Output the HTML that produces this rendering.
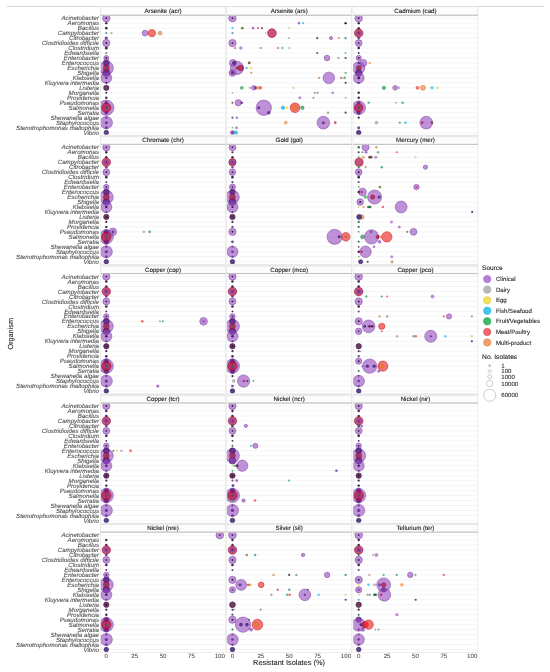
<!DOCTYPE html><html><head><meta charset="utf-8"><style>html,body{margin:0;padding:0;background:#fff;}svg{display:block;will-change:transform;}
text{font-family:"Liberation Sans",sans-serif;text-rendering:geometricPrecision;}
.yl{font-size:6.15px;font-style:italic;fill:#505050;stroke:#505050;stroke-width:0.1px;text-anchor:end;}
.st{font-size:6.2px;fill:#202020;stroke:#202020;stroke-width:0.12px;text-anchor:middle;}
.tk{font-size:6.1px;fill:#555;stroke:#555;stroke-width:0.1px;text-anchor:middle;}
.lg{font-size:6.1px;fill:#2b2b2b;stroke:#2b2b2b;stroke-width:0.1px;}
.lt{font-size:6.5px;fill:#1a1a1a;stroke:#1a1a1a;stroke-width:0.1px;}
.at{font-size:7.4px;fill:#222;stroke:#222;stroke-width:0.08px;text-anchor:middle;}</style></head><body>
<svg width="550" height="672" viewBox="0 0 550 672">
<rect width="550" height="672" fill="#fff"/>
<line x1="7" y1="6.5" x2="544" y2="6.5" stroke="#d6d6d6" stroke-width="1.1"/>
<path d="M100.6 18.19h124.8M100.6 23.16h124.8M100.6 28.14h124.8M100.6 33.11h124.8M100.6 38.09h124.8M100.6 43.06h124.8M100.6 48.04h124.8M100.6 53.01h124.8M100.6 57.99h124.8M100.6 62.96h124.8M100.6 67.94h124.8M100.6 72.91h124.8M100.6 77.89h124.8M100.6 82.86h124.8M100.6 87.84h124.8M100.6 92.81h124.8M100.6 97.79h124.8M100.6 102.76h124.8M100.6 107.74h124.8M100.6 112.71h124.8M100.6 117.69h124.8M100.6 122.66h124.8M100.6 127.64h124.8M100.6 132.61h124.8" stroke="#efefef" stroke-width="0.6"/>
<clipPath id="cp00"><rect x="100.62" y="15.20" width="124.85" height="120.40"/></clipPath>
<g clip-path="url(#cp00)">
<circle cx="106.30" cy="18.19" r="3.75" fill="#9448c0" fill-opacity="0.6" stroke="#793b9d" stroke-opacity="0.70" stroke-width="0.7"/>
<circle cx="106.30" cy="18.19" r="0.9" fill="#2a0f3a" fill-opacity="0.9"/>
<circle cx="106.30" cy="23.16" r="1.2" fill="#2a0f3a" fill-opacity="0.9"/>
<circle cx="106.30" cy="28.14" r="1.3" fill="#2a0f3a" fill-opacity="0.9"/>
<circle cx="106.30" cy="33.11" r="1.1" fill="#3a9a9a" fill-opacity="0.85"/>
<circle cx="111.52" cy="33.11" r="1.2" fill="#8a8a8f" fill-opacity="0.6"/>
<circle cx="145.12" cy="33.11" r="2.95" fill="#9448c0" fill-opacity="0.6" stroke="#793b9d" stroke-opacity="0.70" stroke-width="0.7"/>
<circle cx="151.93" cy="33.11" r="3.65" fill="#f02a2a" fill-opacity="0.66" stroke="#c42222" stroke-opacity="0.76" stroke-width="0.7"/>
<circle cx="160.10" cy="33.11" r="1.85" fill="#f07f2a" fill-opacity="0.62" stroke="#c46822" stroke-opacity="0.72" stroke-width="0.7"/>
<circle cx="106.30" cy="38.09" r="1.6" fill="#5b2a86" fill-opacity="0.85"/>
<circle cx="106.30" cy="43.06" r="3.65" fill="#9448c0" fill-opacity="0.6" stroke="#793b9d" stroke-opacity="0.70" stroke-width="0.7"/>
<circle cx="106.30" cy="43.06" r="1.0" fill="#2a0f3a" fill-opacity="0.9"/>
<circle cx="106.30" cy="48.04" r="1.5" fill="#2a0f3a" fill-opacity="0.9"/>
<circle cx="106.30" cy="53.01" r="0.9" fill="#555555" fill-opacity="0.85"/>
<circle cx="106.30" cy="57.99" r="2.55" fill="#9448c0" fill-opacity="0.6" stroke="#793b9d" stroke-opacity="0.70" stroke-width="0.7"/>
<circle cx="106.30" cy="57.99" r="0.9" fill="#2a0f3a" fill-opacity="0.9"/>
<circle cx="106.30" cy="67.94" r="7.05" fill="#9448c0" fill-opacity="0.6" stroke="#793b9d" stroke-opacity="0.70" stroke-width="0.7"/>
<circle cx="106.30" cy="62.96" r="3.25" fill="#9448c0" fill-opacity="0.6" stroke="#793b9d" stroke-opacity="0.70" stroke-width="0.7"/>
<circle cx="106.30" cy="62.96" r="2.45" fill="#5b2a86" fill-opacity="0.85" stroke="#4a226d" stroke-opacity="0.95" stroke-width="0.7"/>
<circle cx="106.30" cy="72.91" r="3.95" fill="#9448c0" fill-opacity="0.6" stroke="#793b9d" stroke-opacity="0.70" stroke-width="0.7"/>
<circle cx="106.30" cy="72.91" r="2.85" fill="#5b2a86" fill-opacity="0.85" stroke="#4a226d" stroke-opacity="0.95" stroke-width="0.7"/>
<circle cx="106.30" cy="67.94" r="2.85" fill="#b8103e" fill-opacity="0.72" stroke="#960d32" stroke-opacity="0.82" stroke-width="0.7"/>
<circle cx="106.30" cy="67.94" r="1.1" fill="#3a5868" fill-opacity="0.9"/>
<circle cx="106.30" cy="77.89" r="5.45" fill="#9448c0" fill-opacity="0.6" stroke="#793b9d" stroke-opacity="0.70" stroke-width="0.7"/>
<circle cx="106.30" cy="77.89" r="1.0" fill="#2a0f3a" fill-opacity="0.9"/>
<circle cx="106.30" cy="82.86" r="1.0" fill="#2a0f3a" fill-opacity="0.9"/>
<circle cx="106.30" cy="87.84" r="2.65" fill="#5a2250" fill-opacity="0.88" stroke="#491b41" stroke-opacity="0.98" stroke-width="0.7"/>
<circle cx="106.30" cy="92.81" r="1.0" fill="#2a0f3a" fill-opacity="0.9"/>
<circle cx="106.30" cy="97.79" r="1.2" fill="#2a0f3a" fill-opacity="0.9"/>
<circle cx="106.30" cy="107.74" r="7.65" fill="#9448c0" fill-opacity="0.6" stroke="#793b9d" stroke-opacity="0.70" stroke-width="0.7"/>
<circle cx="106.30" cy="102.76" r="1.8" fill="#5b2a86" fill-opacity="0.85"/>
<circle cx="106.30" cy="112.71" r="1.8" fill="#5b2a86" fill-opacity="0.85"/>
<circle cx="106.30" cy="107.74" r="4.65" fill="#b8103e" fill-opacity="0.72" stroke="#960d32" stroke-opacity="0.82" stroke-width="0.7"/>
<circle cx="106.30" cy="107.74" r="1.3" fill="#3a5868" fill-opacity="0.9"/>
<circle cx="106.30" cy="117.69" r="1.3" fill="#5b2a86" fill-opacity="0.85"/>
<circle cx="106.30" cy="122.66" r="6.15" fill="#9448c0" fill-opacity="0.6" stroke="#793b9d" stroke-opacity="0.70" stroke-width="0.7"/>
<circle cx="106.30" cy="122.66" r="1.5" fill="#5b2a86" fill-opacity="0.85"/>
<circle cx="106.30" cy="127.64" r="1.3" fill="#5b2a86" fill-opacity="0.85"/>
<circle cx="106.30" cy="132.61" r="2.25" fill="#4a2e80" fill-opacity="0.9" stroke="#3c2568" stroke-opacity="1.00" stroke-width="0.7"/>
</g>
<rect x="100.62" y="15.20" width="124.85" height="120.40" fill="none" stroke="#e2e2e2" stroke-width="0.6"/>
<rect x="100.62" y="6.50" width="124.85" height="8.70" fill="#fcfcfc" stroke="#dcdcdc" stroke-width="0.6"/>
<line x1="100.62" y1="15.20" x2="225.47" y2="15.20" stroke="#b4b4b4" stroke-width="0.8"/>
<text class="st" x="163.05" y="12.95">Arsenite (acr)</text>
<path d="M226.8 18.19h124.8M226.8 23.16h124.8M226.8 28.14h124.8M226.8 33.11h124.8M226.8 38.09h124.8M226.8 43.06h124.8M226.8 48.04h124.8M226.8 53.01h124.8M226.8 57.99h124.8M226.8 62.96h124.8M226.8 67.94h124.8M226.8 72.91h124.8M226.8 77.89h124.8M226.8 82.86h124.8M226.8 87.84h124.8M226.8 92.81h124.8M226.8 97.79h124.8M226.8 102.76h124.8M226.8 107.74h124.8M226.8 112.71h124.8M226.8 117.69h124.8M226.8 122.66h124.8M226.8 127.64h124.8M226.8 132.61h124.8" stroke="#efefef" stroke-width="0.6"/>
<clipPath id="cp01"><rect x="226.77" y="15.20" width="124.85" height="120.40"/></clipPath>
<g clip-path="url(#cp01)">
<circle cx="232.45" cy="18.19" r="3.75" fill="#9448c0" fill-opacity="0.6" stroke="#793b9d" stroke-opacity="0.70" stroke-width="0.7"/>
<circle cx="232.45" cy="18.19" r="0.9" fill="#2a0f3a" fill-opacity="0.9"/>
<circle cx="298.96" cy="23.16" r="1.3" fill="#9a55c0" fill-opacity="0.8"/>
<circle cx="303.05" cy="23.16" r="1.1" fill="#00b4e6" fill-opacity="0.65"/>
<circle cx="345.61" cy="23.16" r="1.2" fill="#2a0f3a" fill-opacity="0.9"/>
<circle cx="232.45" cy="28.14" r="1.1" fill="#00b4e6" fill-opacity="0.65"/>
<circle cx="242.32" cy="28.14" r="1.4" fill="#6b7a2a" fill-opacity="0.85"/>
<circle cx="253.11" cy="28.14" r="1.3" fill="#9a55c0" fill-opacity="0.8"/>
<circle cx="257.99" cy="28.14" r="1.1" fill="#f02a2a" fill-opacity="0.66"/>
<circle cx="262.07" cy="28.14" r="1.0" fill="#5a2250" fill-opacity="0.88"/>
<circle cx="288.86" cy="28.14" r="1.1" fill="#d8d890" fill-opacity="0.85"/>
<circle cx="232.45" cy="33.11" r="1.1" fill="#3a9a9a" fill-opacity="0.85"/>
<circle cx="265.59" cy="33.11" r="0.8" fill="#8a8a8f" fill-opacity="0.6"/>
<circle cx="271.95" cy="33.11" r="4.35" fill="#b8103e" fill-opacity="0.72" stroke="#960d32" stroke-opacity="0.82" stroke-width="0.7"/>
<circle cx="288.86" cy="38.09" r="1.0" fill="#8a8a8f" fill-opacity="0.6"/>
<circle cx="317.23" cy="38.09" r="1.2" fill="#6a4038" fill-opacity="0.85"/>
<circle cx="330.97" cy="38.09" r="1.65" fill="#9448c0" fill-opacity="0.6" stroke="#793b9d" stroke-opacity="0.70" stroke-width="0.7"/>
<circle cx="338.80" cy="38.09" r="1.1" fill="#c89a6a" fill-opacity="0.85"/>
<circle cx="345.61" cy="38.09" r="1.2" fill="#3a9a9a" fill-opacity="0.85"/>
<circle cx="232.45" cy="43.06" r="3.65" fill="#9448c0" fill-opacity="0.6" stroke="#793b9d" stroke-opacity="0.70" stroke-width="0.7"/>
<circle cx="232.45" cy="43.06" r="0.9" fill="#2a0f3a" fill-opacity="0.9"/>
<circle cx="235.17" cy="48.04" r="1.1" fill="#f02a2a" fill-opacity="0.66"/>
<circle cx="240.85" cy="48.04" r="1.8" fill="#9448c0" fill-opacity="0.6"/>
<circle cx="260.71" cy="48.04" r="1.1" fill="#7aa07a" fill-opacity="0.85"/>
<circle cx="278.08" cy="48.04" r="1.3" fill="#c89a6a" fill-opacity="0.85"/>
<circle cx="282.39" cy="48.04" r="1.2" fill="#00b4e6" fill-opacity="0.65"/>
<circle cx="289.31" cy="48.04" r="1.0" fill="#8a8a8f" fill-opacity="0.6"/>
<circle cx="317.23" cy="53.01" r="1.1" fill="#555555" fill-opacity="0.85"/>
<circle cx="345.61" cy="53.01" r="1.1" fill="#00b4e6" fill-opacity="0.65"/>
<circle cx="327.00" cy="57.99" r="2.85" fill="#9448c0" fill-opacity="0.6" stroke="#793b9d" stroke-opacity="0.70" stroke-width="0.7"/>
<circle cx="338.46" cy="57.99" r="1.1" fill="#7aa07a" fill-opacity="0.85"/>
<circle cx="345.61" cy="57.99" r="1.1" fill="#5a2250" fill-opacity="0.88"/>
<circle cx="236.99" cy="67.94" r="6.65" fill="#9448c0" fill-opacity="0.6" stroke="#793b9d" stroke-opacity="0.70" stroke-width="0.7"/>
<circle cx="232.90" cy="62.96" r="3.45" fill="#9448c0" fill-opacity="0.6" stroke="#793b9d" stroke-opacity="0.70" stroke-width="0.7"/>
<circle cx="234.15" cy="62.96" r="1.65" fill="#5b2a86" fill-opacity="0.85" stroke="#4a226d" stroke-opacity="0.95" stroke-width="0.7"/>
<circle cx="232.45" cy="72.91" r="3.45" fill="#9448c0" fill-opacity="0.6" stroke="#793b9d" stroke-opacity="0.70" stroke-width="0.7"/>
<circle cx="232.45" cy="72.91" r="1.8" fill="#5b2a86" fill-opacity="0.85"/>
<circle cx="240.62" cy="67.94" r="2.75" fill="#b8103e" fill-opacity="0.72" stroke="#960d32" stroke-opacity="0.82" stroke-width="0.7"/>
<circle cx="236.88" cy="67.94" r="1.5" fill="#6a4038" fill-opacity="0.85"/>
<circle cx="249.25" cy="62.96" r="1.4" fill="#6a4038" fill-opacity="0.85"/>
<circle cx="246.64" cy="67.94" r="1.2" fill="#00b4e6" fill-opacity="0.65"/>
<circle cx="251.18" cy="67.94" r="1.3" fill="#f2d20a" fill-opacity="0.6"/>
<circle cx="251.29" cy="72.91" r="1.1" fill="#c89a6a" fill-opacity="0.85"/>
<circle cx="345.61" cy="72.91" r="1.1" fill="#0e9f45" fill-opacity="0.65"/>
<circle cx="319.05" cy="77.89" r="1.2" fill="#c89a6a" fill-opacity="0.85"/>
<circle cx="328.81" cy="77.89" r="5.75" fill="#9448c0" fill-opacity="0.6" stroke="#793b9d" stroke-opacity="0.70" stroke-width="0.7"/>
<circle cx="341.30" cy="77.89" r="1.2" fill="#f02a2a" fill-opacity="0.66"/>
<circle cx="344.59" cy="77.89" r="1.3" fill="#0e9f45" fill-opacity="0.65"/>
<circle cx="345.61" cy="82.86" r="1.1" fill="#4a2e80" fill-opacity="0.9"/>
<circle cx="241.76" cy="87.84" r="1.9" fill="#0e9f45" fill-opacity="0.65"/>
<circle cx="249.93" cy="87.84" r="1.2" fill="#8a8a8f" fill-opacity="0.6"/>
<circle cx="253.79" cy="87.84" r="2.25" fill="#9448c0" fill-opacity="0.6" stroke="#793b9d" stroke-opacity="0.70" stroke-width="0.7"/>
<circle cx="255.72" cy="87.84" r="1.5" fill="#5b2a86" fill-opacity="0.85"/>
<circle cx="257.99" cy="87.84" r="1.8" fill="#f07f2a" fill-opacity="0.62"/>
<circle cx="260.37" cy="87.84" r="1.8" fill="#f02a2a" fill-opacity="0.66"/>
<circle cx="293.51" cy="87.84" r="1.3" fill="#d8d890" fill-opacity="0.85"/>
<circle cx="232.45" cy="92.81" r="0.9" fill="#c89a6a" fill-opacity="0.85"/>
<circle cx="314.85" cy="92.81" r="1.1" fill="#7aa07a" fill-opacity="0.85"/>
<circle cx="317.57" cy="92.81" r="1.1" fill="#7aa07a" fill-opacity="0.85"/>
<circle cx="332.67" cy="92.81" r="1.4" fill="#9448c0" fill-opacity="0.6"/>
<circle cx="299.87" cy="97.79" r="1.5" fill="#9448c0" fill-opacity="0.6"/>
<circle cx="313.49" cy="97.79" r="1.1" fill="#7aa07a" fill-opacity="0.85"/>
<circle cx="345.61" cy="97.79" r="1.0" fill="#8a8a8f" fill-opacity="0.6"/>
<circle cx="232.45" cy="102.76" r="1.0" fill="#6a4038" fill-opacity="0.85"/>
<circle cx="238.24" cy="102.76" r="3.15" fill="#9448c0" fill-opacity="0.6" stroke="#793b9d" stroke-opacity="0.70" stroke-width="0.7"/>
<circle cx="241.76" cy="102.76" r="1.3" fill="#5b2a86" fill-opacity="0.85"/>
<circle cx="263.78" cy="107.74" r="7.65" fill="#9448c0" fill-opacity="0.6" stroke="#793b9d" stroke-opacity="0.70" stroke-width="0.7"/>
<circle cx="258.78" cy="107.74" r="1.5" fill="#5b2a86" fill-opacity="0.85"/>
<circle cx="268.77" cy="112.71" r="1.7" fill="#5b2a86" fill-opacity="0.85"/>
<circle cx="282.96" cy="107.74" r="1.65" fill="#00b4e6" fill-opacity="0.65" stroke="#0093bc" stroke-opacity="0.75" stroke-width="0.7"/>
<circle cx="286.70" cy="107.74" r="1.5" fill="#f2d20a" fill-opacity="0.6"/>
<circle cx="294.99" cy="107.74" r="4.85" fill="#f02a2a" fill-opacity="0.66" stroke="#c42222" stroke-opacity="0.76" stroke-width="0.7"/>
<circle cx="294.99" cy="107.74" r="2.45" fill="#f07f2a" fill-opacity="0.62" stroke="#c46822" stroke-opacity="0.72" stroke-width="0.7"/>
<circle cx="302.37" cy="107.74" r="1.65" fill="#0e9f45" fill-opacity="0.65" stroke="#0b8238" stroke-opacity="0.75" stroke-width="0.7"/>
<circle cx="328.02" cy="112.71" r="1.2" fill="#7aa07a" fill-opacity="0.85"/>
<circle cx="345.61" cy="112.71" r="1.1" fill="#5a2250" fill-opacity="0.88"/>
<circle cx="232.45" cy="117.69" r="1.1" fill="#555555" fill-opacity="0.85"/>
<circle cx="236.88" cy="117.69" r="1.2" fill="#9a55c0" fill-opacity="0.8"/>
<circle cx="285.79" cy="122.66" r="1.9" fill="#f07f2a" fill-opacity="0.62"/>
<circle cx="323.36" cy="122.66" r="6.35" fill="#9448c0" fill-opacity="0.6" stroke="#793b9d" stroke-opacity="0.70" stroke-width="0.7"/>
<circle cx="323.36" cy="122.66" r="1.5" fill="#5b2a86" fill-opacity="0.85"/>
<circle cx="335.28" cy="122.66" r="1.3" fill="#b8103e" fill-opacity="0.72"/>
<circle cx="232.45" cy="127.64" r="0.8" fill="#0e9f45" fill-opacity="0.65"/>
<circle cx="236.54" cy="127.64" r="1.5" fill="#9448c0" fill-opacity="0.6"/>
<circle cx="232.45" cy="132.61" r="2.05" fill="#9448c0" fill-opacity="0.6" stroke="#793b9d" stroke-opacity="0.70" stroke-width="0.7"/>
<circle cx="232.45" cy="132.61" r="1.2" fill="#5b2a86" fill-opacity="0.85"/>
<circle cx="235.97" cy="132.61" r="1.65" fill="#00b4e6" fill-opacity="0.65" stroke="#0093bc" stroke-opacity="0.75" stroke-width="0.7"/>
</g>
<rect x="226.77" y="15.20" width="124.85" height="120.40" fill="none" stroke="#e2e2e2" stroke-width="0.6"/>
<rect x="226.77" y="6.50" width="124.85" height="8.70" fill="#fcfcfc" stroke="#dcdcdc" stroke-width="0.6"/>
<line x1="226.77" y1="15.20" x2="351.62" y2="15.20" stroke="#b4b4b4" stroke-width="0.8"/>
<text class="st" x="289.20" y="12.95">Arsenite (ars)</text>
<path d="M353.0 18.19h124.8M353.0 23.16h124.8M353.0 28.14h124.8M353.0 33.11h124.8M353.0 38.09h124.8M353.0 43.06h124.8M353.0 48.04h124.8M353.0 53.01h124.8M353.0 57.99h124.8M353.0 62.96h124.8M353.0 67.94h124.8M353.0 72.91h124.8M353.0 77.89h124.8M353.0 82.86h124.8M353.0 87.84h124.8M353.0 92.81h124.8M353.0 97.79h124.8M353.0 102.76h124.8M353.0 107.74h124.8M353.0 112.71h124.8M353.0 117.69h124.8M353.0 122.66h124.8M353.0 127.64h124.8M353.0 132.61h124.8" stroke="#efefef" stroke-width="0.6"/>
<clipPath id="cp02"><rect x="353.02" y="15.20" width="124.85" height="120.40"/></clipPath>
<g clip-path="url(#cp02)">
<circle cx="358.70" cy="18.19" r="3.75" fill="#9448c0" fill-opacity="0.6" stroke="#793b9d" stroke-opacity="0.70" stroke-width="0.7"/>
<circle cx="358.70" cy="18.19" r="0.9" fill="#2a0f3a" fill-opacity="0.9"/>
<circle cx="358.70" cy="23.16" r="1.2" fill="#2a0f3a" fill-opacity="0.9"/>
<circle cx="358.70" cy="28.14" r="1.2" fill="#2a0f3a" fill-opacity="0.9"/>
<circle cx="358.70" cy="33.11" r="4.25" fill="#b8103e" fill-opacity="0.72" stroke="#960d32" stroke-opacity="0.82" stroke-width="0.7"/>
<circle cx="358.70" cy="33.11" r="2.15" fill="#9448c0" fill-opacity="0.6" stroke="#793b9d" stroke-opacity="0.70" stroke-width="0.7"/>
<circle cx="358.70" cy="33.11" r="1.0" fill="#5a2250" fill-opacity="0.88"/>
<circle cx="358.70" cy="38.09" r="1.3" fill="#5b2a86" fill-opacity="0.85"/>
<circle cx="358.70" cy="43.06" r="3.45" fill="#9448c0" fill-opacity="0.6" stroke="#793b9d" stroke-opacity="0.70" stroke-width="0.7"/>
<circle cx="358.70" cy="43.06" r="0.9" fill="#2a0f3a" fill-opacity="0.9"/>
<circle cx="358.70" cy="48.04" r="1.3" fill="#2a0f3a" fill-opacity="0.9"/>
<circle cx="358.70" cy="53.01" r="0.9" fill="#2a0f3a" fill-opacity="0.9"/>
<circle cx="358.70" cy="57.99" r="2.65" fill="#9448c0" fill-opacity="0.6" stroke="#793b9d" stroke-opacity="0.70" stroke-width="0.7"/>
<circle cx="358.70" cy="57.99" r="0.9" fill="#2a0f3a" fill-opacity="0.9"/>
<circle cx="358.70" cy="67.94" r="6.15" fill="#9448c0" fill-opacity="0.6" stroke="#793b9d" stroke-opacity="0.70" stroke-width="0.7"/>
<circle cx="363.35" cy="62.96" r="3.55" fill="#9448c0" fill-opacity="0.6" stroke="#793b9d" stroke-opacity="0.70" stroke-width="0.7"/>
<circle cx="358.70" cy="62.96" r="1.2" fill="#4a2e80" fill-opacity="0.9"/>
<circle cx="369.71" cy="62.96" r="1.3" fill="#f07f2a" fill-opacity="0.62"/>
<circle cx="358.70" cy="67.94" r="2.45" fill="#b8103e" fill-opacity="0.72" stroke="#960d32" stroke-opacity="0.82" stroke-width="0.7"/>
<circle cx="358.70" cy="67.94" r="1.0" fill="#3a5868" fill-opacity="0.9"/>
<circle cx="358.70" cy="72.91" r="3.15" fill="#5b2a86" fill-opacity="0.85" stroke="#4a226d" stroke-opacity="0.95" stroke-width="0.7"/>
<circle cx="358.70" cy="77.89" r="5.45" fill="#9448c0" fill-opacity="0.6" stroke="#793b9d" stroke-opacity="0.70" stroke-width="0.7"/>
<circle cx="358.70" cy="77.89" r="1.3" fill="#2a0f3a" fill-opacity="0.9"/>
<circle cx="358.70" cy="82.86" r="1.1" fill="#4a2e80" fill-opacity="0.9"/>
<circle cx="383.90" cy="87.84" r="1.65" fill="#0e9f45" fill-opacity="0.65" stroke="#0b8238" stroke-opacity="0.75" stroke-width="0.7"/>
<circle cx="395.13" cy="87.84" r="2.35" fill="#9448c0" fill-opacity="0.6" stroke="#793b9d" stroke-opacity="0.70" stroke-width="0.7"/>
<circle cx="398.77" cy="87.84" r="1.5" fill="#8a8a8f" fill-opacity="0.6"/>
<circle cx="417.49" cy="87.84" r="1.9" fill="#f02a2a" fill-opacity="0.66"/>
<circle cx="422.94" cy="87.84" r="2.45" fill="#f07f2a" fill-opacity="0.62" stroke="#c46822" stroke-opacity="0.72" stroke-width="0.7"/>
<circle cx="432.02" cy="87.84" r="1.6" fill="#00b4e6" fill-opacity="0.65"/>
<circle cx="437.47" cy="87.84" r="1.4" fill="#d8d890" fill-opacity="0.85"/>
<circle cx="358.70" cy="92.81" r="1.2" fill="#2a0f3a" fill-opacity="0.9"/>
<circle cx="358.70" cy="97.79" r="1.2" fill="#2a0f3a" fill-opacity="0.9"/>
<circle cx="368.69" cy="102.76" r="1.2" fill="#0e9f45" fill-opacity="0.65"/>
<circle cx="396.15" cy="102.76" r="1.1" fill="#8a8a8f" fill-opacity="0.6"/>
<circle cx="402.62" cy="102.76" r="1.2" fill="#3a9a9a" fill-opacity="0.85"/>
<circle cx="358.70" cy="107.74" r="6.85" fill="#9448c0" fill-opacity="0.6" stroke="#793b9d" stroke-opacity="0.70" stroke-width="0.7"/>
<circle cx="358.70" cy="102.76" r="1.8" fill="#5b2a86" fill-opacity="0.85"/>
<circle cx="358.70" cy="112.71" r="1.65" fill="#5b2a86" fill-opacity="0.85" stroke="#4a226d" stroke-opacity="0.95" stroke-width="0.7"/>
<circle cx="358.70" cy="107.74" r="4.25" fill="#b8103e" fill-opacity="0.72" stroke="#960d32" stroke-opacity="0.82" stroke-width="0.7"/>
<circle cx="358.70" cy="107.74" r="1.2" fill="#3a5868" fill-opacity="0.9"/>
<circle cx="358.70" cy="117.69" r="1.1" fill="#2a0f3a" fill-opacity="0.9"/>
<circle cx="376.52" cy="122.66" r="1.8" fill="#8a8a8f" fill-opacity="0.6"/>
<circle cx="399.79" cy="122.66" r="1.2" fill="#7aa07a" fill-opacity="0.85"/>
<circle cx="405.58" cy="122.66" r="1.3" fill="#00b4e6" fill-opacity="0.65"/>
<circle cx="426.23" cy="122.66" r="6.35" fill="#9448c0" fill-opacity="0.6" stroke="#793b9d" stroke-opacity="0.70" stroke-width="0.7"/>
<circle cx="422.15" cy="122.66" r="1.3" fill="#b8103e" fill-opacity="0.72"/>
<circle cx="431.91" cy="122.66" r="1.3" fill="#6a4038" fill-opacity="0.85"/>
<circle cx="358.70" cy="127.64" r="1.5" fill="#5b2a86" fill-opacity="0.85"/>
<circle cx="358.70" cy="132.61" r="2.25" fill="#4a2e80" fill-opacity="0.9" stroke="#3c2568" stroke-opacity="1.00" stroke-width="0.7"/>
</g>
<rect x="353.02" y="15.20" width="124.85" height="120.40" fill="none" stroke="#e2e2e2" stroke-width="0.6"/>
<rect x="353.02" y="6.50" width="124.85" height="8.70" fill="#fcfcfc" stroke="#dcdcdc" stroke-width="0.6"/>
<line x1="353.02" y1="15.20" x2="477.88" y2="15.20" stroke="#b4b4b4" stroke-width="0.8"/>
<text class="st" x="415.45" y="12.95">Cadmium (cad)</text>
<text class="yl" x="99.0" y="20.29">Acinetobacter</text>
<text class="yl" x="99.0" y="25.26">Aeromonas</text>
<text class="yl" x="99.0" y="30.24">Bacillus</text>
<text class="yl" x="99.0" y="35.21">Campylobacter</text>
<text class="yl" x="99.0" y="40.19">Citrobacter</text>
<text class="yl" x="99.0" y="45.16">Clostridioides difficile</text>
<text class="yl" x="99.0" y="50.14">Clostridium</text>
<text class="yl" x="99.0" y="55.11">Edwardsiella</text>
<text class="yl" x="99.0" y="60.09">Enterobacter</text>
<text class="yl" x="99.0" y="65.06">Enterococcus</text>
<text class="yl" x="99.0" y="70.04">Escherichia</text>
<text class="yl" x="99.0" y="75.01">Shigella</text>
<text class="yl" x="99.0" y="79.99">Klebsiella</text>
<text class="yl" x="99.0" y="84.96">Kluyvera intermedia</text>
<text class="yl" x="99.0" y="89.94">Listeria</text>
<text class="yl" x="99.0" y="94.91">Morganella</text>
<text class="yl" x="99.0" y="99.89">Providencia</text>
<text class="yl" x="99.0" y="104.86">Pseudomonas</text>
<text class="yl" x="99.0" y="109.84">Salmonella</text>
<text class="yl" x="99.0" y="114.81">Serratia</text>
<text class="yl" x="99.0" y="119.79">Shewanella algae</text>
<text class="yl" x="99.0" y="124.76">Staphylococcus</text>
<text class="yl" x="99.0" y="129.74">Stenotrophomonas maltophilia</text>
<text class="yl" x="99.0" y="134.71">Vibrio</text>
<path d="M100.6 147.29h124.8M100.6 152.26h124.8M100.6 157.24h124.8M100.6 162.21h124.8M100.6 167.19h124.8M100.6 172.16h124.8M100.6 177.14h124.8M100.6 182.11h124.8M100.6 187.09h124.8M100.6 192.06h124.8M100.6 197.04h124.8M100.6 202.01h124.8M100.6 206.99h124.8M100.6 211.96h124.8M100.6 216.94h124.8M100.6 221.91h124.8M100.6 226.89h124.8M100.6 231.86h124.8M100.6 236.84h124.8M100.6 241.81h124.8M100.6 246.79h124.8M100.6 251.76h124.8M100.6 256.74h124.8M100.6 261.71h124.8" stroke="#efefef" stroke-width="0.6"/>
<clipPath id="cp10"><rect x="100.62" y="144.30" width="124.85" height="120.40"/></clipPath>
<g clip-path="url(#cp10)">
<circle cx="106.30" cy="147.29" r="3.65" fill="#9448c0" fill-opacity="0.6" stroke="#793b9d" stroke-opacity="0.70" stroke-width="0.7"/>
<circle cx="106.30" cy="147.29" r="0.9" fill="#2a0f3a" fill-opacity="0.9"/>
<circle cx="106.30" cy="152.26" r="1.2" fill="#2a0f3a" fill-opacity="0.9"/>
<circle cx="106.30" cy="157.24" r="1.2" fill="#2a0f3a" fill-opacity="0.9"/>
<circle cx="106.30" cy="162.21" r="4.25" fill="#b8103e" fill-opacity="0.72" stroke="#960d32" stroke-opacity="0.82" stroke-width="0.7"/>
<circle cx="106.30" cy="162.21" r="2.15" fill="#9448c0" fill-opacity="0.6" stroke="#793b9d" stroke-opacity="0.70" stroke-width="0.7"/>
<circle cx="106.30" cy="162.21" r="1.0" fill="#5b2a86" fill-opacity="0.85"/>
<circle cx="106.30" cy="167.19" r="1.3" fill="#5b2a86" fill-opacity="0.85"/>
<circle cx="106.30" cy="172.16" r="3.45" fill="#9448c0" fill-opacity="0.6" stroke="#793b9d" stroke-opacity="0.70" stroke-width="0.7"/>
<circle cx="106.30" cy="172.16" r="0.9" fill="#2a0f3a" fill-opacity="0.9"/>
<circle cx="106.30" cy="177.14" r="1.3" fill="#2a0f3a" fill-opacity="0.9"/>
<circle cx="106.30" cy="182.11" r="0.9" fill="#2a0f3a" fill-opacity="0.9"/>
<circle cx="106.30" cy="187.09" r="2.75" fill="#9448c0" fill-opacity="0.6" stroke="#793b9d" stroke-opacity="0.70" stroke-width="0.7"/>
<circle cx="106.30" cy="187.09" r="0.9" fill="#2a0f3a" fill-opacity="0.9"/>
<circle cx="106.30" cy="197.04" r="6.95" fill="#9448c0" fill-opacity="0.6" stroke="#793b9d" stroke-opacity="0.70" stroke-width="0.7"/>
<circle cx="106.30" cy="192.06" r="3.05" fill="#9448c0" fill-opacity="0.6" stroke="#793b9d" stroke-opacity="0.70" stroke-width="0.7"/>
<circle cx="106.30" cy="192.06" r="2.65" fill="#5b2a86" fill-opacity="0.85" stroke="#4a226d" stroke-opacity="0.95" stroke-width="0.7"/>
<circle cx="106.30" cy="202.01" r="3.25" fill="#5b2a86" fill-opacity="0.85" stroke="#4a226d" stroke-opacity="0.95" stroke-width="0.7"/>
<circle cx="106.30" cy="197.04" r="2.85" fill="#b8103e" fill-opacity="0.72" stroke="#960d32" stroke-opacity="0.82" stroke-width="0.7"/>
<circle cx="106.30" cy="197.04" r="1.1" fill="#3a5868" fill-opacity="0.9"/>
<circle cx="106.30" cy="206.99" r="5.55" fill="#9448c0" fill-opacity="0.6" stroke="#793b9d" stroke-opacity="0.70" stroke-width="0.7"/>
<circle cx="106.30" cy="206.99" r="1.2" fill="#2a0f3a" fill-opacity="0.9"/>
<circle cx="106.30" cy="211.96" r="1.0" fill="#4a2e80" fill-opacity="0.9"/>
<circle cx="106.30" cy="216.94" r="2.65" fill="#5a2250" fill-opacity="0.88" stroke="#491b41" stroke-opacity="0.98" stroke-width="0.7"/>
<circle cx="106.30" cy="216.94" r="1.0" fill="#2a0f3a" fill-opacity="0.9"/>
<circle cx="106.30" cy="221.91" r="1.1" fill="#2a0f3a" fill-opacity="0.9"/>
<circle cx="106.30" cy="226.89" r="1.2" fill="#2a0f3a" fill-opacity="0.9"/>
<circle cx="106.30" cy="236.84" r="7.05" fill="#9448c0" fill-opacity="0.6" stroke="#793b9d" stroke-opacity="0.70" stroke-width="0.7"/>
<circle cx="106.30" cy="231.86" r="2.65" fill="#9448c0" fill-opacity="0.6" stroke="#793b9d" stroke-opacity="0.70" stroke-width="0.7"/>
<circle cx="106.30" cy="241.81" r="2.65" fill="#9448c0" fill-opacity="0.6" stroke="#793b9d" stroke-opacity="0.70" stroke-width="0.7"/>
<circle cx="106.30" cy="231.86" r="1.65" fill="#5b2a86" fill-opacity="0.85" stroke="#4a226d" stroke-opacity="0.95" stroke-width="0.7"/>
<circle cx="106.30" cy="241.81" r="1.85" fill="#5b2a86" fill-opacity="0.85" stroke="#4a226d" stroke-opacity="0.95" stroke-width="0.7"/>
<circle cx="106.30" cy="236.84" r="4.75" fill="#b8103e" fill-opacity="0.72" stroke="#960d32" stroke-opacity="0.82" stroke-width="0.7"/>
<circle cx="106.30" cy="236.84" r="1.3" fill="#3a5868" fill-opacity="0.9"/>
<circle cx="106.30" cy="246.79" r="1.1" fill="#2a0f3a" fill-opacity="0.9"/>
<circle cx="106.30" cy="251.76" r="6.05" fill="#9448c0" fill-opacity="0.6" stroke="#793b9d" stroke-opacity="0.70" stroke-width="0.7"/>
<circle cx="106.30" cy="251.76" r="1.6" fill="#5b2a86" fill-opacity="0.85"/>
<circle cx="106.30" cy="256.74" r="1.3" fill="#5b2a86" fill-opacity="0.85"/>
<circle cx="106.30" cy="261.71" r="2.25" fill="#4a2e80" fill-opacity="0.9" stroke="#3c2568" stroke-opacity="1.00" stroke-width="0.7"/>
<circle cx="112.88" cy="231.86" r="3.75" fill="#9448c0" fill-opacity="0.6" stroke="#793b9d" stroke-opacity="0.70" stroke-width="0.7"/>
<circle cx="113.11" cy="231.86" r="1.3" fill="#5b2a86" fill-opacity="0.85"/>
<circle cx="143.87" cy="231.86" r="1.3" fill="#8a8a8f" fill-opacity="0.6"/>
<circle cx="149.66" cy="231.86" r="1.3" fill="#3a9a9a" fill-opacity="0.85"/>
</g>
<rect x="100.62" y="144.30" width="124.85" height="120.40" fill="none" stroke="#e2e2e2" stroke-width="0.6"/>
<rect x="100.62" y="136.40" width="124.85" height="7.90" fill="#fcfcfc" stroke="#dcdcdc" stroke-width="0.6"/>
<line x1="100.62" y1="144.30" x2="225.47" y2="144.30" stroke="#b4b4b4" stroke-width="0.8"/>
<line x1="100.33" y1="136.00" x2="225.78" y2="136.00" stroke="#e8e8e8" stroke-width="2.4"/>
<text class="st" x="163.05" y="142.45">Chromate (chr)</text>
<path d="M226.8 147.29h124.8M226.8 152.26h124.8M226.8 157.24h124.8M226.8 162.21h124.8M226.8 167.19h124.8M226.8 172.16h124.8M226.8 177.14h124.8M226.8 182.11h124.8M226.8 187.09h124.8M226.8 192.06h124.8M226.8 197.04h124.8M226.8 202.01h124.8M226.8 206.99h124.8M226.8 211.96h124.8M226.8 216.94h124.8M226.8 221.91h124.8M226.8 226.89h124.8M226.8 231.86h124.8M226.8 236.84h124.8M226.8 241.81h124.8M226.8 246.79h124.8M226.8 251.76h124.8M226.8 256.74h124.8M226.8 261.71h124.8" stroke="#efefef" stroke-width="0.6"/>
<clipPath id="cp11"><rect x="226.77" y="144.30" width="124.85" height="120.40"/></clipPath>
<g clip-path="url(#cp11)">
<circle cx="232.45" cy="147.29" r="3.45" fill="#9448c0" fill-opacity="0.6" stroke="#793b9d" stroke-opacity="0.70" stroke-width="0.7"/>
<circle cx="232.45" cy="147.29" r="0.9" fill="#2a0f3a" fill-opacity="0.9"/>
<circle cx="232.45" cy="152.26" r="1.1" fill="#2a0f3a" fill-opacity="0.9"/>
<circle cx="232.45" cy="157.24" r="1.2" fill="#2a0f3a" fill-opacity="0.9"/>
<circle cx="232.45" cy="162.21" r="3.65" fill="#b8103e" fill-opacity="0.72" stroke="#960d32" stroke-opacity="0.82" stroke-width="0.7"/>
<circle cx="232.45" cy="162.21" r="2.25" fill="#9448c0" fill-opacity="0.6" stroke="#793b9d" stroke-opacity="0.70" stroke-width="0.7"/>
<circle cx="232.45" cy="162.21" r="1.0" fill="#5b2a86" fill-opacity="0.85"/>
<circle cx="232.45" cy="167.19" r="1.2" fill="#5b2a86" fill-opacity="0.85"/>
<circle cx="232.45" cy="172.16" r="3.25" fill="#9448c0" fill-opacity="0.6" stroke="#793b9d" stroke-opacity="0.70" stroke-width="0.7"/>
<circle cx="232.45" cy="172.16" r="0.9" fill="#2a0f3a" fill-opacity="0.9"/>
<circle cx="232.45" cy="177.14" r="1.3" fill="#2a0f3a" fill-opacity="0.9"/>
<circle cx="232.45" cy="182.11" r="1.1" fill="#4a2e80" fill-opacity="0.9"/>
<circle cx="232.45" cy="187.09" r="3.05" fill="#9448c0" fill-opacity="0.6" stroke="#793b9d" stroke-opacity="0.70" stroke-width="0.7"/>
<circle cx="232.45" cy="187.09" r="0.9" fill="#2a0f3a" fill-opacity="0.9"/>
<circle cx="232.45" cy="197.04" r="6.85" fill="#9448c0" fill-opacity="0.6" stroke="#793b9d" stroke-opacity="0.70" stroke-width="0.7"/>
<circle cx="232.45" cy="192.06" r="2.85" fill="#9448c0" fill-opacity="0.6" stroke="#793b9d" stroke-opacity="0.70" stroke-width="0.7"/>
<circle cx="232.45" cy="192.06" r="2.45" fill="#5b2a86" fill-opacity="0.85" stroke="#4a226d" stroke-opacity="0.95" stroke-width="0.7"/>
<circle cx="232.45" cy="202.01" r="3.45" fill="#5b2a86" fill-opacity="0.85" stroke="#4a226d" stroke-opacity="0.95" stroke-width="0.7"/>
<circle cx="232.45" cy="197.04" r="2.85" fill="#b8103e" fill-opacity="0.72" stroke="#960d32" stroke-opacity="0.82" stroke-width="0.7"/>
<circle cx="232.45" cy="197.04" r="1.0" fill="#3a5868" fill-opacity="0.9"/>
<circle cx="232.45" cy="206.99" r="5.55" fill="#9448c0" fill-opacity="0.6" stroke="#793b9d" stroke-opacity="0.70" stroke-width="0.7"/>
<circle cx="232.45" cy="206.99" r="1.1" fill="#2a0f3a" fill-opacity="0.9"/>
<circle cx="232.45" cy="211.96" r="1.0" fill="#4a2e80" fill-opacity="0.9"/>
<circle cx="232.45" cy="216.94" r="2.65" fill="#5a2250" fill-opacity="0.88" stroke="#491b41" stroke-opacity="0.98" stroke-width="0.7"/>
<circle cx="232.45" cy="216.94" r="1.3" fill="#4a2e80" fill-opacity="0.9"/>
<circle cx="232.45" cy="221.91" r="1.1" fill="#2a0f3a" fill-opacity="0.9"/>
<circle cx="232.45" cy="226.89" r="1.1" fill="#4a2e80" fill-opacity="0.9"/>
<circle cx="232.45" cy="231.86" r="3.65" fill="#9448c0" fill-opacity="0.6" stroke="#793b9d" stroke-opacity="0.70" stroke-width="0.7"/>
<circle cx="232.45" cy="231.86" r="1.0" fill="#2a0f3a" fill-opacity="0.9"/>
<circle cx="334.60" cy="236.84" r="7.55" fill="#9448c0" fill-opacity="0.6" stroke="#793b9d" stroke-opacity="0.70" stroke-width="0.7"/>
<circle cx="345.84" cy="236.84" r="4.25" fill="#f02a2a" fill-opacity="0.66" stroke="#c42222" stroke-opacity="0.76" stroke-width="0.7"/>
<circle cx="339.14" cy="236.84" r="1.5" fill="#4a2e80" fill-opacity="0.9"/>
<circle cx="345.84" cy="236.84" r="1.0" fill="#6b7a2a" fill-opacity="0.85"/>
<circle cx="232.45" cy="241.81" r="1.4" fill="#5b2a86" fill-opacity="0.85"/>
<circle cx="232.45" cy="246.79" r="1.1" fill="#5b2a86" fill-opacity="0.85"/>
<circle cx="232.45" cy="251.76" r="5.55" fill="#9448c0" fill-opacity="0.6" stroke="#793b9d" stroke-opacity="0.70" stroke-width="0.7"/>
<circle cx="232.45" cy="251.76" r="1.3" fill="#5b2a86" fill-opacity="0.85"/>
<circle cx="232.45" cy="256.74" r="1.0" fill="#5b2a86" fill-opacity="0.85"/>
<circle cx="232.45" cy="261.71" r="2.25" fill="#4a2e80" fill-opacity="0.9" stroke="#3c2568" stroke-opacity="1.00" stroke-width="0.7"/>
</g>
<rect x="226.77" y="144.30" width="124.85" height="120.40" fill="none" stroke="#e2e2e2" stroke-width="0.6"/>
<rect x="226.77" y="136.40" width="124.85" height="7.90" fill="#fcfcfc" stroke="#dcdcdc" stroke-width="0.6"/>
<line x1="226.77" y1="144.30" x2="351.62" y2="144.30" stroke="#b4b4b4" stroke-width="0.8"/>
<line x1="226.47" y1="136.00" x2="351.93" y2="136.00" stroke="#e8e8e8" stroke-width="2.4"/>
<text class="st" x="289.20" y="142.45">Gold (gol)</text>
<path d="M353.0 147.29h124.8M353.0 152.26h124.8M353.0 157.24h124.8M353.0 162.21h124.8M353.0 167.19h124.8M353.0 172.16h124.8M353.0 177.14h124.8M353.0 182.11h124.8M353.0 187.09h124.8M353.0 192.06h124.8M353.0 197.04h124.8M353.0 202.01h124.8M353.0 206.99h124.8M353.0 211.96h124.8M353.0 216.94h124.8M353.0 221.91h124.8M353.0 226.89h124.8M353.0 231.86h124.8M353.0 236.84h124.8M353.0 241.81h124.8M353.0 246.79h124.8M353.0 251.76h124.8M353.0 256.74h124.8M353.0 261.71h124.8" stroke="#efefef" stroke-width="0.6"/>
<clipPath id="cp12"><rect x="353.02" y="144.30" width="124.85" height="120.40"/></clipPath>
<g clip-path="url(#cp12)">
<circle cx="358.70" cy="147.29" r="1.2" fill="#1f6a3a" fill-opacity="0.9"/>
<circle cx="365.62" cy="147.29" r="3.55" fill="#9448c0" fill-opacity="0.6" stroke="#793b9d" stroke-opacity="0.70" stroke-width="0.7"/>
<circle cx="376.41" cy="147.29" r="1.2" fill="#c89a6a" fill-opacity="0.85"/>
<circle cx="358.70" cy="152.26" r="1.1" fill="#5a2250" fill-opacity="0.88"/>
<circle cx="362.45" cy="152.26" r="1.1" fill="#3a9a9a" fill-opacity="0.85"/>
<circle cx="366.08" cy="152.26" r="1.4" fill="#9a55c0" fill-opacity="0.8"/>
<circle cx="378.00" cy="152.26" r="1.2" fill="#7aa07a" fill-opacity="0.85"/>
<circle cx="396.84" cy="152.26" r="1.1" fill="#f02a2a" fill-opacity="0.66"/>
<circle cx="358.70" cy="157.24" r="1.1" fill="#0e9f45" fill-opacity="0.65"/>
<circle cx="363.24" cy="157.24" r="1.6" fill="#f07f2a" fill-opacity="0.62"/>
<circle cx="369.60" cy="157.24" r="1.4" fill="#6a4038" fill-opacity="0.85"/>
<circle cx="371.19" cy="157.24" r="1.4" fill="#6a4038" fill-opacity="0.85"/>
<circle cx="375.84" cy="157.24" r="1.5" fill="#9448c0" fill-opacity="0.6"/>
<circle cx="415.45" cy="157.24" r="1.2" fill="#d8d890" fill-opacity="0.85"/>
<circle cx="359.04" cy="162.21" r="4.05" fill="#b8103e" fill-opacity="0.72" stroke="#960d32" stroke-opacity="0.82" stroke-width="0.7"/>
<circle cx="359.04" cy="162.21" r="1.3" fill="#9a55c0" fill-opacity="0.8"/>
<circle cx="358.70" cy="167.19" r="1.0" fill="#1f6a3a" fill-opacity="0.9"/>
<circle cx="365.74" cy="167.19" r="1.1" fill="#c89a6a" fill-opacity="0.85"/>
<circle cx="381.74" cy="167.19" r="1.2" fill="#3a9a9a" fill-opacity="0.85"/>
<circle cx="425.44" cy="167.19" r="2.15" fill="#9448c0" fill-opacity="0.6" stroke="#793b9d" stroke-opacity="0.70" stroke-width="0.7"/>
<circle cx="358.70" cy="172.16" r="3.35" fill="#9448c0" fill-opacity="0.6" stroke="#793b9d" stroke-opacity="0.70" stroke-width="0.7"/>
<circle cx="358.70" cy="172.16" r="1.0" fill="#2a0f3a" fill-opacity="0.9"/>
<circle cx="358.70" cy="177.14" r="1.3" fill="#2a0f3a" fill-opacity="0.9"/>
<circle cx="358.70" cy="182.11" r="1.0" fill="#4a2e80" fill-opacity="0.9"/>
<circle cx="358.70" cy="187.09" r="1.0" fill="#7aa07a" fill-opacity="0.85"/>
<circle cx="379.81" cy="187.09" r="1.3" fill="#6b7a2a" fill-opacity="0.85"/>
<circle cx="416.47" cy="187.09" r="2.75" fill="#9448c0" fill-opacity="0.6" stroke="#793b9d" stroke-opacity="0.70" stroke-width="0.7"/>
<circle cx="416.47" cy="187.09" r="0.9" fill="#b8103e" fill-opacity="0.72"/>
<circle cx="362.56" cy="192.06" r="3.85" fill="#9448c0" fill-opacity="0.6" stroke="#793b9d" stroke-opacity="0.70" stroke-width="0.7"/>
<circle cx="358.70" cy="192.06" r="1.2" fill="#2a0f3a" fill-opacity="0.9"/>
<circle cx="361.65" cy="192.06" r="1.2" fill="#b8103e" fill-opacity="0.72"/>
<circle cx="365.28" cy="197.04" r="1.7" fill="#0e9f45" fill-opacity="0.65"/>
<circle cx="374.59" cy="197.04" r="7.05" fill="#9448c0" fill-opacity="0.6" stroke="#793b9d" stroke-opacity="0.70" stroke-width="0.7"/>
<circle cx="372.66" cy="197.04" r="2.15" fill="#b8103e" fill-opacity="0.72" stroke="#960d32" stroke-opacity="0.82" stroke-width="0.7"/>
<circle cx="379.13" cy="197.04" r="1.6" fill="#5b2a86" fill-opacity="0.85"/>
<circle cx="360.18" cy="202.01" r="3.35" fill="#9448c0" fill-opacity="0.6" stroke="#793b9d" stroke-opacity="0.70" stroke-width="0.7"/>
<circle cx="360.18" cy="202.01" r="1.0" fill="#2a0f3a" fill-opacity="0.9"/>
<circle cx="358.70" cy="206.99" r="0.9" fill="#d8d890" fill-opacity="0.85"/>
<circle cx="363.58" cy="206.99" r="1.2" fill="#f07f2a" fill-opacity="0.62"/>
<circle cx="368.46" cy="206.99" r="1.3" fill="#1f6a3a" fill-opacity="0.9"/>
<circle cx="370.16" cy="206.99" r="1.3" fill="#1f6a3a" fill-opacity="0.9"/>
<circle cx="382.88" cy="206.99" r="1.3" fill="#f02a2a" fill-opacity="0.66"/>
<circle cx="401.15" cy="206.99" r="5.95" fill="#9448c0" fill-opacity="0.6" stroke="#793b9d" stroke-opacity="0.70" stroke-width="0.7"/>
<circle cx="472.20" cy="211.96" r="1.1" fill="#4a2e80" fill-opacity="0.9"/>
<circle cx="361.76" cy="216.94" r="2.25" fill="#f07f2a" fill-opacity="0.62" stroke="#c46822" stroke-opacity="0.72" stroke-width="0.7"/>
<circle cx="359.15" cy="216.94" r="2.45" fill="#4a2e80" fill-opacity="0.9" stroke="#3c2568" stroke-opacity="1.00" stroke-width="0.7"/>
<circle cx="358.70" cy="221.91" r="1.1" fill="#1f6a3a" fill-opacity="0.9"/>
<circle cx="391.50" cy="221.91" r="1.5" fill="#9448c0" fill-opacity="0.6"/>
<circle cx="358.70" cy="226.89" r="1.1" fill="#1f6a3a" fill-opacity="0.9"/>
<circle cx="399.22" cy="226.89" r="1.5" fill="#9448c0" fill-opacity="0.6"/>
<circle cx="358.70" cy="231.86" r="1.0" fill="#7aa07a" fill-opacity="0.85"/>
<circle cx="371.19" cy="231.86" r="1.3" fill="#5b2a86" fill-opacity="0.85"/>
<circle cx="407.28" cy="231.86" r="1.1" fill="#6b7a2a" fill-opacity="0.85"/>
<circle cx="413.52" cy="231.86" r="3.45" fill="#9448c0" fill-opacity="0.6" stroke="#793b9d" stroke-opacity="0.70" stroke-width="0.7"/>
<circle cx="362.45" cy="236.84" r="1.85" fill="#0e9f45" fill-opacity="0.65" stroke="#0b8238" stroke-opacity="0.75" stroke-width="0.7"/>
<circle cx="371.53" cy="236.84" r="7.15" fill="#9448c0" fill-opacity="0.6" stroke="#793b9d" stroke-opacity="0.70" stroke-width="0.7"/>
<circle cx="377.65" cy="236.84" r="1.65" fill="#b8103e" fill-opacity="0.72" stroke="#960d32" stroke-opacity="0.82" stroke-width="0.7"/>
<circle cx="380.49" cy="236.84" r="1.7" fill="#f07f2a" fill-opacity="0.62"/>
<circle cx="386.85" cy="236.84" r="5.15" fill="#f02a2a" fill-opacity="0.66" stroke="#c42222" stroke-opacity="0.76" stroke-width="0.7"/>
<circle cx="358.70" cy="241.81" r="1.0" fill="#1f6a3a" fill-opacity="0.9"/>
<circle cx="379.58" cy="241.81" r="1.7" fill="#9a55c0" fill-opacity="0.8"/>
<circle cx="358.70" cy="246.79" r="0.9" fill="#5a2250" fill-opacity="0.88"/>
<circle cx="374.02" cy="246.79" r="1.3" fill="#9a55c0" fill-opacity="0.8"/>
<circle cx="365.51" cy="251.76" r="5.75" fill="#9448c0" fill-opacity="0.6" stroke="#793b9d" stroke-opacity="0.70" stroke-width="0.7"/>
<circle cx="358.70" cy="251.76" r="1.2" fill="#2a0f3a" fill-opacity="0.9"/>
<circle cx="361.65" cy="251.76" r="1.3" fill="#b8103e" fill-opacity="0.72"/>
<circle cx="358.70" cy="256.74" r="0.9" fill="#7aa07a" fill-opacity="0.85"/>
<circle cx="391.73" cy="256.74" r="1.5" fill="#9448c0" fill-opacity="0.6"/>
<circle cx="360.63" cy="261.71" r="2.05" fill="#4a2e80" fill-opacity="0.9" stroke="#3c2568" stroke-opacity="1.00" stroke-width="0.7"/>
<circle cx="367.67" cy="261.71" r="1.0" fill="#5a2250" fill-opacity="0.88"/>
<circle cx="392.07" cy="261.71" r="1.5" fill="#c89a6a" fill-opacity="0.85"/>
</g>
<rect x="353.02" y="144.30" width="124.85" height="120.40" fill="none" stroke="#e2e2e2" stroke-width="0.6"/>
<rect x="353.02" y="136.40" width="124.85" height="7.90" fill="#fcfcfc" stroke="#dcdcdc" stroke-width="0.6"/>
<line x1="353.02" y1="144.30" x2="477.88" y2="144.30" stroke="#b4b4b4" stroke-width="0.8"/>
<line x1="352.72" y1="136.00" x2="478.18" y2="136.00" stroke="#e8e8e8" stroke-width="2.4"/>
<text class="st" x="415.45" y="142.45">Mercury (mer)</text>
<text class="yl" x="99.0" y="149.39">Acinetobacter</text>
<text class="yl" x="99.0" y="154.36">Aeromonas</text>
<text class="yl" x="99.0" y="159.34">Bacillus</text>
<text class="yl" x="99.0" y="164.31">Campylobacter</text>
<text class="yl" x="99.0" y="169.29">Citrobacter</text>
<text class="yl" x="99.0" y="174.26">Clostridioides difficile</text>
<text class="yl" x="99.0" y="179.24">Clostridium</text>
<text class="yl" x="99.0" y="184.21">Edwardsiella</text>
<text class="yl" x="99.0" y="189.19">Enterobacter</text>
<text class="yl" x="99.0" y="194.16">Enterococcus</text>
<text class="yl" x="99.0" y="199.14">Escherichia</text>
<text class="yl" x="99.0" y="204.11">Shigella</text>
<text class="yl" x="99.0" y="209.09">Klebsiella</text>
<text class="yl" x="99.0" y="214.06">Kluyvera intermedia</text>
<text class="yl" x="99.0" y="219.04">Listeria</text>
<text class="yl" x="99.0" y="224.01">Morganella</text>
<text class="yl" x="99.0" y="228.99">Providencia</text>
<text class="yl" x="99.0" y="233.96">Pseudomonas</text>
<text class="yl" x="99.0" y="238.94">Salmonella</text>
<text class="yl" x="99.0" y="243.91">Serratia</text>
<text class="yl" x="99.0" y="248.89">Shewanella algae</text>
<text class="yl" x="99.0" y="253.86">Staphylococcus</text>
<text class="yl" x="99.0" y="258.84">Stenotrophomonas maltophilia</text>
<text class="yl" x="99.0" y="263.81">Vibrio</text>
<path d="M100.6 276.59h124.8M100.6 281.56h124.8M100.6 286.54h124.8M100.6 291.51h124.8M100.6 296.49h124.8M100.6 301.46h124.8M100.6 306.44h124.8M100.6 311.41h124.8M100.6 316.39h124.8M100.6 321.36h124.8M100.6 326.34h124.8M100.6 331.31h124.8M100.6 336.29h124.8M100.6 341.26h124.8M100.6 346.24h124.8M100.6 351.21h124.8M100.6 356.19h124.8M100.6 361.16h124.8M100.6 366.14h124.8M100.6 371.11h124.8M100.6 376.09h124.8M100.6 381.06h124.8M100.6 386.04h124.8M100.6 391.01h124.8" stroke="#efefef" stroke-width="0.6"/>
<clipPath id="cp20"><rect x="100.62" y="273.60" width="124.85" height="120.40"/></clipPath>
<g clip-path="url(#cp20)">
<circle cx="106.30" cy="276.59" r="3.65" fill="#9448c0" fill-opacity="0.6" stroke="#793b9d" stroke-opacity="0.70" stroke-width="0.7"/>
<circle cx="106.30" cy="276.59" r="0.9" fill="#2a0f3a" fill-opacity="0.9"/>
<circle cx="106.30" cy="281.56" r="1.2" fill="#2a0f3a" fill-opacity="0.9"/>
<circle cx="106.30" cy="286.54" r="1.2" fill="#2a0f3a" fill-opacity="0.9"/>
<circle cx="106.30" cy="291.51" r="4.25" fill="#b8103e" fill-opacity="0.72" stroke="#960d32" stroke-opacity="0.82" stroke-width="0.7"/>
<circle cx="106.30" cy="291.51" r="2.15" fill="#9448c0" fill-opacity="0.6" stroke="#793b9d" stroke-opacity="0.70" stroke-width="0.7"/>
<circle cx="106.30" cy="291.51" r="1.0" fill="#5b2a86" fill-opacity="0.85"/>
<circle cx="106.30" cy="296.49" r="1.3" fill="#5b2a86" fill-opacity="0.85"/>
<circle cx="106.30" cy="301.46" r="3.45" fill="#9448c0" fill-opacity="0.6" stroke="#793b9d" stroke-opacity="0.70" stroke-width="0.7"/>
<circle cx="106.30" cy="301.46" r="0.9" fill="#2a0f3a" fill-opacity="0.9"/>
<circle cx="106.30" cy="306.44" r="1.3" fill="#2a0f3a" fill-opacity="0.9"/>
<circle cx="106.30" cy="311.41" r="0.9" fill="#2a0f3a" fill-opacity="0.9"/>
<circle cx="106.30" cy="316.39" r="2.75" fill="#9448c0" fill-opacity="0.6" stroke="#793b9d" stroke-opacity="0.70" stroke-width="0.7"/>
<circle cx="106.30" cy="316.39" r="0.9" fill="#2a0f3a" fill-opacity="0.9"/>
<circle cx="106.30" cy="326.34" r="6.95" fill="#9448c0" fill-opacity="0.6" stroke="#793b9d" stroke-opacity="0.70" stroke-width="0.7"/>
<circle cx="106.30" cy="321.36" r="3.05" fill="#9448c0" fill-opacity="0.6" stroke="#793b9d" stroke-opacity="0.70" stroke-width="0.7"/>
<circle cx="106.30" cy="321.36" r="2.65" fill="#5b2a86" fill-opacity="0.85" stroke="#4a226d" stroke-opacity="0.95" stroke-width="0.7"/>
<circle cx="106.30" cy="331.31" r="3.25" fill="#5b2a86" fill-opacity="0.85" stroke="#4a226d" stroke-opacity="0.95" stroke-width="0.7"/>
<circle cx="106.30" cy="326.34" r="2.85" fill="#b8103e" fill-opacity="0.72" stroke="#960d32" stroke-opacity="0.82" stroke-width="0.7"/>
<circle cx="106.30" cy="326.34" r="1.1" fill="#3a5868" fill-opacity="0.9"/>
<circle cx="106.30" cy="336.29" r="5.55" fill="#9448c0" fill-opacity="0.6" stroke="#793b9d" stroke-opacity="0.70" stroke-width="0.7"/>
<circle cx="106.30" cy="336.29" r="1.2" fill="#2a0f3a" fill-opacity="0.9"/>
<circle cx="106.30" cy="341.26" r="1.0" fill="#4a2e80" fill-opacity="0.9"/>
<circle cx="106.30" cy="346.24" r="2.65" fill="#5a2250" fill-opacity="0.88" stroke="#491b41" stroke-opacity="0.98" stroke-width="0.7"/>
<circle cx="106.30" cy="346.24" r="1.0" fill="#2a0f3a" fill-opacity="0.9"/>
<circle cx="106.30" cy="351.21" r="1.1" fill="#2a0f3a" fill-opacity="0.9"/>
<circle cx="106.30" cy="356.19" r="1.2" fill="#2a0f3a" fill-opacity="0.9"/>
<circle cx="106.30" cy="366.14" r="7.05" fill="#9448c0" fill-opacity="0.6" stroke="#793b9d" stroke-opacity="0.70" stroke-width="0.7"/>
<circle cx="106.30" cy="361.16" r="2.65" fill="#9448c0" fill-opacity="0.6" stroke="#793b9d" stroke-opacity="0.70" stroke-width="0.7"/>
<circle cx="106.30" cy="371.11" r="2.65" fill="#9448c0" fill-opacity="0.6" stroke="#793b9d" stroke-opacity="0.70" stroke-width="0.7"/>
<circle cx="106.30" cy="361.16" r="1.65" fill="#5b2a86" fill-opacity="0.85" stroke="#4a226d" stroke-opacity="0.95" stroke-width="0.7"/>
<circle cx="106.30" cy="371.11" r="1.85" fill="#5b2a86" fill-opacity="0.85" stroke="#4a226d" stroke-opacity="0.95" stroke-width="0.7"/>
<circle cx="106.30" cy="366.14" r="4.75" fill="#b8103e" fill-opacity="0.72" stroke="#960d32" stroke-opacity="0.82" stroke-width="0.7"/>
<circle cx="106.30" cy="366.14" r="1.3" fill="#3a5868" fill-opacity="0.9"/>
<circle cx="106.30" cy="376.09" r="1.1" fill="#2a0f3a" fill-opacity="0.9"/>
<circle cx="106.30" cy="381.06" r="6.05" fill="#9448c0" fill-opacity="0.6" stroke="#793b9d" stroke-opacity="0.70" stroke-width="0.7"/>
<circle cx="106.30" cy="381.06" r="1.6" fill="#5b2a86" fill-opacity="0.85"/>
<circle cx="106.30" cy="386.04" r="1.3" fill="#5b2a86" fill-opacity="0.85"/>
<circle cx="106.30" cy="391.01" r="2.25" fill="#4a2e80" fill-opacity="0.9" stroke="#3c2568" stroke-opacity="1.00" stroke-width="0.7"/>
<circle cx="142.28" cy="321.36" r="1.4" fill="#f02a2a" fill-opacity="0.66"/>
<circle cx="159.87" cy="321.36" r="1.1" fill="#8a8a8f" fill-opacity="0.6"/>
<circle cx="162.82" cy="321.36" r="1.1" fill="#0e9f45" fill-opacity="0.65"/>
<circle cx="203.57" cy="321.36" r="3.85" fill="#9448c0" fill-opacity="0.6" stroke="#793b9d" stroke-opacity="0.70" stroke-width="0.7"/>
<circle cx="203.57" cy="321.36" r="1.5" fill="#9a55c0" fill-opacity="0.8"/>
<circle cx="157.83" cy="386.04" r="1.6" fill="#9a55c0" fill-opacity="0.8"/>
</g>
<rect x="100.62" y="273.60" width="124.85" height="120.40" fill="none" stroke="#e2e2e2" stroke-width="0.6"/>
<rect x="100.62" y="266.00" width="124.85" height="7.60" fill="#fcfcfc" stroke="#dcdcdc" stroke-width="0.6"/>
<line x1="100.62" y1="273.60" x2="225.47" y2="273.60" stroke="#b4b4b4" stroke-width="0.8"/>
<line x1="100.33" y1="265.35" x2="225.78" y2="265.35" stroke="#e8e8e8" stroke-width="2.4"/>
<text class="st" x="163.05" y="271.90">Copper (cop)</text>
<path d="M226.8 276.59h124.8M226.8 281.56h124.8M226.8 286.54h124.8M226.8 291.51h124.8M226.8 296.49h124.8M226.8 301.46h124.8M226.8 306.44h124.8M226.8 311.41h124.8M226.8 316.39h124.8M226.8 321.36h124.8M226.8 326.34h124.8M226.8 331.31h124.8M226.8 336.29h124.8M226.8 341.26h124.8M226.8 346.24h124.8M226.8 351.21h124.8M226.8 356.19h124.8M226.8 361.16h124.8M226.8 366.14h124.8M226.8 371.11h124.8M226.8 376.09h124.8M226.8 381.06h124.8M226.8 386.04h124.8M226.8 391.01h124.8" stroke="#efefef" stroke-width="0.6"/>
<clipPath id="cp21"><rect x="226.77" y="273.60" width="124.85" height="120.40"/></clipPath>
<g clip-path="url(#cp21)">
<circle cx="232.45" cy="276.59" r="3.65" fill="#9448c0" fill-opacity="0.6" stroke="#793b9d" stroke-opacity="0.70" stroke-width="0.7"/>
<circle cx="232.45" cy="276.59" r="0.9" fill="#2a0f3a" fill-opacity="0.9"/>
<circle cx="232.45" cy="281.56" r="1.2" fill="#2a0f3a" fill-opacity="0.9"/>
<circle cx="232.45" cy="286.54" r="1.2" fill="#2a0f3a" fill-opacity="0.9"/>
<circle cx="232.45" cy="291.51" r="4.25" fill="#b8103e" fill-opacity="0.72" stroke="#960d32" stroke-opacity="0.82" stroke-width="0.7"/>
<circle cx="232.45" cy="291.51" r="2.15" fill="#9448c0" fill-opacity="0.6" stroke="#793b9d" stroke-opacity="0.70" stroke-width="0.7"/>
<circle cx="232.45" cy="291.51" r="1.0" fill="#5b2a86" fill-opacity="0.85"/>
<circle cx="232.45" cy="296.49" r="1.3" fill="#5b2a86" fill-opacity="0.85"/>
<circle cx="232.45" cy="301.46" r="3.45" fill="#9448c0" fill-opacity="0.6" stroke="#793b9d" stroke-opacity="0.70" stroke-width="0.7"/>
<circle cx="232.45" cy="301.46" r="0.9" fill="#2a0f3a" fill-opacity="0.9"/>
<circle cx="232.45" cy="306.44" r="1.3" fill="#2a0f3a" fill-opacity="0.9"/>
<circle cx="232.45" cy="311.41" r="0.9" fill="#2a0f3a" fill-opacity="0.9"/>
<circle cx="232.45" cy="316.39" r="2.75" fill="#9448c0" fill-opacity="0.6" stroke="#793b9d" stroke-opacity="0.70" stroke-width="0.7"/>
<circle cx="232.45" cy="316.39" r="0.9" fill="#2a0f3a" fill-opacity="0.9"/>
<circle cx="232.45" cy="326.34" r="6.95" fill="#9448c0" fill-opacity="0.6" stroke="#793b9d" stroke-opacity="0.70" stroke-width="0.7"/>
<circle cx="232.45" cy="321.36" r="3.05" fill="#9448c0" fill-opacity="0.6" stroke="#793b9d" stroke-opacity="0.70" stroke-width="0.7"/>
<circle cx="232.45" cy="321.36" r="2.65" fill="#5b2a86" fill-opacity="0.85" stroke="#4a226d" stroke-opacity="0.95" stroke-width="0.7"/>
<circle cx="232.45" cy="331.31" r="3.25" fill="#5b2a86" fill-opacity="0.85" stroke="#4a226d" stroke-opacity="0.95" stroke-width="0.7"/>
<circle cx="232.45" cy="326.34" r="2.85" fill="#b8103e" fill-opacity="0.72" stroke="#960d32" stroke-opacity="0.82" stroke-width="0.7"/>
<circle cx="232.45" cy="326.34" r="1.1" fill="#3a5868" fill-opacity="0.9"/>
<circle cx="232.45" cy="336.29" r="5.55" fill="#9448c0" fill-opacity="0.6" stroke="#793b9d" stroke-opacity="0.70" stroke-width="0.7"/>
<circle cx="232.45" cy="336.29" r="1.2" fill="#2a0f3a" fill-opacity="0.9"/>
<circle cx="232.45" cy="341.26" r="1.0" fill="#4a2e80" fill-opacity="0.9"/>
<circle cx="232.45" cy="346.24" r="2.65" fill="#5a2250" fill-opacity="0.88" stroke="#491b41" stroke-opacity="0.98" stroke-width="0.7"/>
<circle cx="232.45" cy="346.24" r="1.0" fill="#2a0f3a" fill-opacity="0.9"/>
<circle cx="232.45" cy="351.21" r="1.1" fill="#2a0f3a" fill-opacity="0.9"/>
<circle cx="232.45" cy="356.19" r="1.2" fill="#2a0f3a" fill-opacity="0.9"/>
<circle cx="232.45" cy="366.14" r="7.05" fill="#9448c0" fill-opacity="0.6" stroke="#793b9d" stroke-opacity="0.70" stroke-width="0.7"/>
<circle cx="232.45" cy="361.16" r="2.65" fill="#9448c0" fill-opacity="0.6" stroke="#793b9d" stroke-opacity="0.70" stroke-width="0.7"/>
<circle cx="232.45" cy="371.11" r="2.65" fill="#9448c0" fill-opacity="0.6" stroke="#793b9d" stroke-opacity="0.70" stroke-width="0.7"/>
<circle cx="232.45" cy="361.16" r="1.65" fill="#5b2a86" fill-opacity="0.85" stroke="#4a226d" stroke-opacity="0.95" stroke-width="0.7"/>
<circle cx="232.45" cy="371.11" r="1.85" fill="#5b2a86" fill-opacity="0.85" stroke="#4a226d" stroke-opacity="0.95" stroke-width="0.7"/>
<circle cx="232.45" cy="366.14" r="4.75" fill="#b8103e" fill-opacity="0.72" stroke="#960d32" stroke-opacity="0.82" stroke-width="0.7"/>
<circle cx="232.45" cy="366.14" r="1.3" fill="#3a5868" fill-opacity="0.9"/>
<circle cx="232.45" cy="376.09" r="1.1" fill="#2a0f3a" fill-opacity="0.9"/>
<circle cx="232.45" cy="386.04" r="1.3" fill="#5b2a86" fill-opacity="0.85"/>
<circle cx="232.45" cy="391.01" r="2.25" fill="#4a2e80" fill-opacity="0.9" stroke="#3c2568" stroke-opacity="1.00" stroke-width="0.7"/>
<circle cx="233.70" cy="381.06" r="1.8" fill="#8a8a8f" fill-opacity="0.6"/>
<circle cx="243.57" cy="381.06" r="6.15" fill="#9448c0" fill-opacity="0.6" stroke="#793b9d" stroke-opacity="0.70" stroke-width="0.7"/>
<circle cx="243.91" cy="381.06" r="1.2" fill="#b8103e" fill-opacity="0.72"/>
<circle cx="247.20" cy="381.06" r="1.0" fill="#4a2e80" fill-opacity="0.9"/>
<circle cx="253.45" cy="381.06" r="1.0" fill="#0e9f45" fill-opacity="0.65"/>
</g>
<rect x="226.77" y="273.60" width="124.85" height="120.40" fill="none" stroke="#e2e2e2" stroke-width="0.6"/>
<rect x="226.77" y="266.00" width="124.85" height="7.60" fill="#fcfcfc" stroke="#dcdcdc" stroke-width="0.6"/>
<line x1="226.77" y1="273.60" x2="351.62" y2="273.60" stroke="#b4b4b4" stroke-width="0.8"/>
<line x1="226.47" y1="265.35" x2="351.93" y2="265.35" stroke="#e8e8e8" stroke-width="2.4"/>
<text class="st" x="289.20" y="271.90">Copper (mco)</text>
<path d="M353.0 276.59h124.8M353.0 281.56h124.8M353.0 286.54h124.8M353.0 291.51h124.8M353.0 296.49h124.8M353.0 301.46h124.8M353.0 306.44h124.8M353.0 311.41h124.8M353.0 316.39h124.8M353.0 321.36h124.8M353.0 326.34h124.8M353.0 331.31h124.8M353.0 336.29h124.8M353.0 341.26h124.8M353.0 346.24h124.8M353.0 351.21h124.8M353.0 356.19h124.8M353.0 361.16h124.8M353.0 366.14h124.8M353.0 371.11h124.8M353.0 376.09h124.8M353.0 381.06h124.8M353.0 386.04h124.8M353.0 391.01h124.8" stroke="#efefef" stroke-width="0.6"/>
<clipPath id="cp22"><rect x="353.02" y="273.60" width="124.85" height="120.40"/></clipPath>
<g clip-path="url(#cp22)">
<circle cx="358.70" cy="276.59" r="3.85" fill="#9448c0" fill-opacity="0.6" stroke="#793b9d" stroke-opacity="0.70" stroke-width="0.7"/>
<circle cx="358.70" cy="276.59" r="0.9" fill="#2a0f3a" fill-opacity="0.9"/>
<circle cx="358.70" cy="281.56" r="1.2" fill="#2a0f3a" fill-opacity="0.9"/>
<circle cx="358.70" cy="286.54" r="1.2" fill="#2a0f3a" fill-opacity="0.9"/>
<circle cx="358.70" cy="291.51" r="4.25" fill="#b8103e" fill-opacity="0.72" stroke="#960d32" stroke-opacity="0.82" stroke-width="0.7"/>
<circle cx="358.70" cy="291.51" r="2.15" fill="#9448c0" fill-opacity="0.6" stroke="#793b9d" stroke-opacity="0.70" stroke-width="0.7"/>
<circle cx="358.70" cy="291.51" r="1.2" fill="#5b2a86" fill-opacity="0.85"/>
<circle cx="366.30" cy="296.49" r="1.2" fill="#0e9f45" fill-opacity="0.65"/>
<circle cx="381.74" cy="296.49" r="1.1" fill="#3a9a9a" fill-opacity="0.85"/>
<circle cx="387.19" cy="296.49" r="1.1" fill="#f02a2a" fill-opacity="0.66"/>
<circle cx="432.48" cy="296.49" r="1.9" fill="#9448c0" fill-opacity="0.6"/>
<circle cx="358.70" cy="301.46" r="3.65" fill="#9448c0" fill-opacity="0.6" stroke="#793b9d" stroke-opacity="0.70" stroke-width="0.7"/>
<circle cx="358.70" cy="301.46" r="1.0" fill="#2a0f3a" fill-opacity="0.9"/>
<circle cx="358.70" cy="306.44" r="1.3" fill="#2a0f3a" fill-opacity="0.9"/>
<circle cx="358.70" cy="311.41" r="1.0" fill="#4a2e80" fill-opacity="0.9"/>
<circle cx="379.47" cy="316.39" r="1.2" fill="#c89a6a" fill-opacity="0.85"/>
<circle cx="387.19" cy="316.39" r="1.2" fill="#7aa07a" fill-opacity="0.85"/>
<circle cx="443.82" cy="316.39" r="1.1" fill="#f02a2a" fill-opacity="0.66"/>
<circle cx="449.05" cy="316.39" r="2.65" fill="#9448c0" fill-opacity="0.6" stroke="#793b9d" stroke-opacity="0.70" stroke-width="0.7"/>
<circle cx="471.86" cy="316.39" r="1.1" fill="#7aa07a" fill-opacity="0.85"/>
<circle cx="358.70" cy="321.36" r="3.65" fill="#9448c0" fill-opacity="0.6" stroke="#793b9d" stroke-opacity="0.70" stroke-width="0.7"/>
<circle cx="358.70" cy="321.36" r="1.0" fill="#2a0f3a" fill-opacity="0.9"/>
<circle cx="368.57" cy="326.34" r="6.35" fill="#9448c0" fill-opacity="0.6" stroke="#793b9d" stroke-opacity="0.70" stroke-width="0.7"/>
<circle cx="364.72" cy="326.34" r="1.4" fill="#4a2e80" fill-opacity="0.9"/>
<circle cx="369.48" cy="326.34" r="1.4" fill="#5a2250" fill-opacity="0.88"/>
<circle cx="372.32" cy="326.34" r="1.4" fill="#5a2250" fill-opacity="0.88"/>
<circle cx="381.74" cy="326.34" r="3.15" fill="#f02a2a" fill-opacity="0.66" stroke="#c42222" stroke-opacity="0.76" stroke-width="0.7"/>
<circle cx="381.74" cy="331.31" r="0.9" fill="#b8103e" fill-opacity="0.72"/>
<circle cx="358.70" cy="331.31" r="3.25" fill="#9448c0" fill-opacity="0.6" stroke="#793b9d" stroke-opacity="0.70" stroke-width="0.7"/>
<circle cx="358.70" cy="331.31" r="1.0" fill="#5b2a86" fill-opacity="0.85"/>
<circle cx="397.06" cy="336.29" r="1.2" fill="#c89a6a" fill-opacity="0.85"/>
<circle cx="413.63" cy="336.29" r="1.2" fill="#0e9f45" fill-opacity="0.65"/>
<circle cx="415.90" cy="336.29" r="1.2" fill="#f02a2a" fill-opacity="0.66"/>
<circle cx="430.77" cy="336.29" r="6.05" fill="#9448c0" fill-opacity="0.6" stroke="#793b9d" stroke-opacity="0.70" stroke-width="0.7"/>
<circle cx="430.77" cy="336.29" r="1.1" fill="#5b2a86" fill-opacity="0.85"/>
<circle cx="445.41" cy="336.29" r="1.2" fill="#00b4e6" fill-opacity="0.65"/>
<circle cx="471.86" cy="336.29" r="1.2" fill="#d8d890" fill-opacity="0.85"/>
<circle cx="471.86" cy="341.26" r="1.1" fill="#4a2e80" fill-opacity="0.9"/>
<circle cx="358.70" cy="346.24" r="2.65" fill="#5a2250" fill-opacity="0.88" stroke="#491b41" stroke-opacity="0.98" stroke-width="0.7"/>
<circle cx="358.70" cy="351.21" r="1.0" fill="#2a0f3a" fill-opacity="0.9"/>
<circle cx="360.52" cy="351.21" r="1.0" fill="#8a8a8f" fill-opacity="0.6"/>
<circle cx="358.70" cy="356.19" r="1.1" fill="#4a2e80" fill-opacity="0.9"/>
<circle cx="358.70" cy="361.16" r="3.15" fill="#9448c0" fill-opacity="0.6" stroke="#793b9d" stroke-opacity="0.70" stroke-width="0.7"/>
<circle cx="358.70" cy="361.16" r="1.0" fill="#2a0f3a" fill-opacity="0.9"/>
<circle cx="369.71" cy="366.14" r="7.15" fill="#9448c0" fill-opacity="0.6" stroke="#793b9d" stroke-opacity="0.70" stroke-width="0.7"/>
<circle cx="367.33" cy="366.14" r="1.7" fill="#4a2e80" fill-opacity="0.9"/>
<circle cx="374.14" cy="366.14" r="1.7" fill="#4a2e80" fill-opacity="0.9"/>
<circle cx="362.67" cy="366.14" r="1.2" fill="#9a55c0" fill-opacity="0.8"/>
<circle cx="382.88" cy="366.14" r="5.05" fill="#f02a2a" fill-opacity="0.66" stroke="#c42222" stroke-opacity="0.76" stroke-width="0.7"/>
<circle cx="381.17" cy="366.14" r="2.15" fill="#f07f2a" fill-opacity="0.62" stroke="#c46822" stroke-opacity="0.72" stroke-width="0.7"/>
<circle cx="378.79" cy="371.11" r="1.7" fill="#9a55c0" fill-opacity="0.8"/>
<circle cx="358.70" cy="371.11" r="1.0" fill="#1f6a3a" fill-opacity="0.9"/>
<circle cx="358.70" cy="376.09" r="1.0" fill="#5b2a86" fill-opacity="0.85"/>
<circle cx="358.70" cy="381.06" r="5.75" fill="#9448c0" fill-opacity="0.6" stroke="#793b9d" stroke-opacity="0.70" stroke-width="0.7"/>
<circle cx="358.70" cy="381.06" r="1.3" fill="#5b2a86" fill-opacity="0.85"/>
<circle cx="358.70" cy="386.04" r="1.1" fill="#5b2a86" fill-opacity="0.85"/>
<circle cx="358.70" cy="391.01" r="2.25" fill="#4a2e80" fill-opacity="0.9" stroke="#3c2568" stroke-opacity="1.00" stroke-width="0.7"/>
</g>
<rect x="353.02" y="273.60" width="124.85" height="120.40" fill="none" stroke="#e2e2e2" stroke-width="0.6"/>
<rect x="353.02" y="266.00" width="124.85" height="7.60" fill="#fcfcfc" stroke="#dcdcdc" stroke-width="0.6"/>
<line x1="353.02" y1="273.60" x2="477.88" y2="273.60" stroke="#b4b4b4" stroke-width="0.8"/>
<line x1="352.72" y1="265.35" x2="478.18" y2="265.35" stroke="#e8e8e8" stroke-width="2.4"/>
<text class="st" x="415.45" y="271.90">Copper (pco)</text>
<text class="yl" x="99.0" y="278.69">Acinetobacter</text>
<text class="yl" x="99.0" y="283.66">Aeromonas</text>
<text class="yl" x="99.0" y="288.64">Bacillus</text>
<text class="yl" x="99.0" y="293.61">Campylobacter</text>
<text class="yl" x="99.0" y="298.59">Citrobacter</text>
<text class="yl" x="99.0" y="303.56">Clostridioides difficile</text>
<text class="yl" x="99.0" y="308.54">Clostridium</text>
<text class="yl" x="99.0" y="313.51">Edwardsiella</text>
<text class="yl" x="99.0" y="318.49">Enterobacter</text>
<text class="yl" x="99.0" y="323.46">Enterococcus</text>
<text class="yl" x="99.0" y="328.44">Escherichia</text>
<text class="yl" x="99.0" y="333.41">Shigella</text>
<text class="yl" x="99.0" y="338.39">Klebsiella</text>
<text class="yl" x="99.0" y="343.36">Kluyvera intermedia</text>
<text class="yl" x="99.0" y="348.34">Listeria</text>
<text class="yl" x="99.0" y="353.31">Morganella</text>
<text class="yl" x="99.0" y="358.29">Providencia</text>
<text class="yl" x="99.0" y="363.26">Pseudomonas</text>
<text class="yl" x="99.0" y="368.24">Salmonella</text>
<text class="yl" x="99.0" y="373.21">Serratia</text>
<text class="yl" x="99.0" y="378.19">Shewanella algae</text>
<text class="yl" x="99.0" y="383.16">Staphylococcus</text>
<text class="yl" x="99.0" y="388.14">Stenotrophomonas maltophilia</text>
<text class="yl" x="99.0" y="393.11">Vibrio</text>
<path d="M100.6 405.99h124.8M100.6 410.96h124.8M100.6 415.94h124.8M100.6 420.91h124.8M100.6 425.89h124.8M100.6 430.86h124.8M100.6 435.84h124.8M100.6 440.81h124.8M100.6 445.79h124.8M100.6 450.76h124.8M100.6 455.74h124.8M100.6 460.71h124.8M100.6 465.69h124.8M100.6 470.66h124.8M100.6 475.64h124.8M100.6 480.61h124.8M100.6 485.59h124.8M100.6 490.56h124.8M100.6 495.54h124.8M100.6 500.51h124.8M100.6 505.49h124.8M100.6 510.46h124.8M100.6 515.44h124.8M100.6 520.41h124.8" stroke="#efefef" stroke-width="0.6"/>
<clipPath id="cp30"><rect x="100.62" y="403.00" width="124.85" height="120.40"/></clipPath>
<g clip-path="url(#cp30)">
<circle cx="106.30" cy="405.99" r="3.65" fill="#9448c0" fill-opacity="0.6" stroke="#793b9d" stroke-opacity="0.70" stroke-width="0.7"/>
<circle cx="106.30" cy="405.99" r="0.9" fill="#2a0f3a" fill-opacity="0.9"/>
<circle cx="106.30" cy="410.96" r="1.2" fill="#2a0f3a" fill-opacity="0.9"/>
<circle cx="106.30" cy="415.94" r="1.2" fill="#2a0f3a" fill-opacity="0.9"/>
<circle cx="106.30" cy="420.91" r="4.25" fill="#b8103e" fill-opacity="0.72" stroke="#960d32" stroke-opacity="0.82" stroke-width="0.7"/>
<circle cx="106.30" cy="420.91" r="2.15" fill="#9448c0" fill-opacity="0.6" stroke="#793b9d" stroke-opacity="0.70" stroke-width="0.7"/>
<circle cx="106.30" cy="420.91" r="1.0" fill="#5b2a86" fill-opacity="0.85"/>
<circle cx="106.30" cy="425.89" r="1.3" fill="#5b2a86" fill-opacity="0.85"/>
<circle cx="106.30" cy="430.86" r="3.45" fill="#9448c0" fill-opacity="0.6" stroke="#793b9d" stroke-opacity="0.70" stroke-width="0.7"/>
<circle cx="106.30" cy="430.86" r="0.9" fill="#2a0f3a" fill-opacity="0.9"/>
<circle cx="106.30" cy="435.84" r="1.3" fill="#2a0f3a" fill-opacity="0.9"/>
<circle cx="106.30" cy="440.81" r="0.9" fill="#2a0f3a" fill-opacity="0.9"/>
<circle cx="106.30" cy="445.79" r="2.75" fill="#9448c0" fill-opacity="0.6" stroke="#793b9d" stroke-opacity="0.70" stroke-width="0.7"/>
<circle cx="106.30" cy="445.79" r="0.9" fill="#2a0f3a" fill-opacity="0.9"/>
<circle cx="106.30" cy="455.74" r="6.95" fill="#9448c0" fill-opacity="0.6" stroke="#793b9d" stroke-opacity="0.70" stroke-width="0.7"/>
<circle cx="106.30" cy="450.76" r="3.05" fill="#9448c0" fill-opacity="0.6" stroke="#793b9d" stroke-opacity="0.70" stroke-width="0.7"/>
<circle cx="106.30" cy="450.76" r="2.65" fill="#5b2a86" fill-opacity="0.85" stroke="#4a226d" stroke-opacity="0.95" stroke-width="0.7"/>
<circle cx="106.30" cy="460.71" r="3.25" fill="#5b2a86" fill-opacity="0.85" stroke="#4a226d" stroke-opacity="0.95" stroke-width="0.7"/>
<circle cx="106.30" cy="455.74" r="2.85" fill="#b8103e" fill-opacity="0.72" stroke="#960d32" stroke-opacity="0.82" stroke-width="0.7"/>
<circle cx="106.30" cy="455.74" r="1.1" fill="#3a5868" fill-opacity="0.9"/>
<circle cx="106.30" cy="465.69" r="5.55" fill="#9448c0" fill-opacity="0.6" stroke="#793b9d" stroke-opacity="0.70" stroke-width="0.7"/>
<circle cx="106.30" cy="465.69" r="1.2" fill="#2a0f3a" fill-opacity="0.9"/>
<circle cx="106.30" cy="470.66" r="1.0" fill="#4a2e80" fill-opacity="0.9"/>
<circle cx="106.30" cy="475.64" r="2.65" fill="#5a2250" fill-opacity="0.88" stroke="#491b41" stroke-opacity="0.98" stroke-width="0.7"/>
<circle cx="106.30" cy="475.64" r="1.0" fill="#2a0f3a" fill-opacity="0.9"/>
<circle cx="106.30" cy="480.61" r="1.1" fill="#2a0f3a" fill-opacity="0.9"/>
<circle cx="106.30" cy="485.59" r="1.2" fill="#2a0f3a" fill-opacity="0.9"/>
<circle cx="106.30" cy="495.54" r="7.05" fill="#9448c0" fill-opacity="0.6" stroke="#793b9d" stroke-opacity="0.70" stroke-width="0.7"/>
<circle cx="106.30" cy="490.56" r="2.65" fill="#9448c0" fill-opacity="0.6" stroke="#793b9d" stroke-opacity="0.70" stroke-width="0.7"/>
<circle cx="106.30" cy="500.51" r="2.65" fill="#9448c0" fill-opacity="0.6" stroke="#793b9d" stroke-opacity="0.70" stroke-width="0.7"/>
<circle cx="106.30" cy="490.56" r="1.65" fill="#5b2a86" fill-opacity="0.85" stroke="#4a226d" stroke-opacity="0.95" stroke-width="0.7"/>
<circle cx="106.30" cy="500.51" r="1.85" fill="#5b2a86" fill-opacity="0.85" stroke="#4a226d" stroke-opacity="0.95" stroke-width="0.7"/>
<circle cx="106.30" cy="495.54" r="4.75" fill="#b8103e" fill-opacity="0.72" stroke="#960d32" stroke-opacity="0.82" stroke-width="0.7"/>
<circle cx="106.30" cy="495.54" r="1.3" fill="#3a5868" fill-opacity="0.9"/>
<circle cx="106.30" cy="505.49" r="1.1" fill="#2a0f3a" fill-opacity="0.9"/>
<circle cx="106.30" cy="510.46" r="6.05" fill="#9448c0" fill-opacity="0.6" stroke="#793b9d" stroke-opacity="0.70" stroke-width="0.7"/>
<circle cx="106.30" cy="510.46" r="1.6" fill="#5b2a86" fill-opacity="0.85"/>
<circle cx="106.30" cy="515.44" r="1.3" fill="#5b2a86" fill-opacity="0.85"/>
<circle cx="106.30" cy="520.41" r="2.25" fill="#4a2e80" fill-opacity="0.9" stroke="#3c2568" stroke-opacity="1.00" stroke-width="0.7"/>
<circle cx="113.34" cy="450.76" r="1.1" fill="#6b7a2a" fill-opacity="0.85"/>
<circle cx="116.97" cy="450.76" r="1.1" fill="#d8d890" fill-opacity="0.85"/>
<circle cx="121.40" cy="450.76" r="1.2" fill="#8a8a8f" fill-opacity="0.6"/>
<circle cx="130.59" cy="450.76" r="1.4" fill="#f02a2a" fill-opacity="0.66"/>
</g>
<rect x="100.62" y="403.00" width="124.85" height="120.40" fill="none" stroke="#e2e2e2" stroke-width="0.6"/>
<rect x="100.62" y="395.40" width="124.85" height="7.60" fill="#fcfcfc" stroke="#dcdcdc" stroke-width="0.6"/>
<line x1="100.62" y1="403.00" x2="225.47" y2="403.00" stroke="#b4b4b4" stroke-width="0.8"/>
<line x1="100.33" y1="394.70" x2="225.78" y2="394.70" stroke="#e8e8e8" stroke-width="2.4"/>
<text class="st" x="163.05" y="401.30">Copper (tcr)</text>
<path d="M226.8 405.99h124.8M226.8 410.96h124.8M226.8 415.94h124.8M226.8 420.91h124.8M226.8 425.89h124.8M226.8 430.86h124.8M226.8 435.84h124.8M226.8 440.81h124.8M226.8 445.79h124.8M226.8 450.76h124.8M226.8 455.74h124.8M226.8 460.71h124.8M226.8 465.69h124.8M226.8 470.66h124.8M226.8 475.64h124.8M226.8 480.61h124.8M226.8 485.59h124.8M226.8 490.56h124.8M226.8 495.54h124.8M226.8 500.51h124.8M226.8 505.49h124.8M226.8 510.46h124.8M226.8 515.44h124.8M226.8 520.41h124.8" stroke="#efefef" stroke-width="0.6"/>
<clipPath id="cp31"><rect x="226.77" y="403.00" width="124.85" height="120.40"/></clipPath>
<g clip-path="url(#cp31)">
<circle cx="232.45" cy="405.99" r="3.65" fill="#9448c0" fill-opacity="0.6" stroke="#793b9d" stroke-opacity="0.70" stroke-width="0.7"/>
<circle cx="232.45" cy="405.99" r="0.9" fill="#2a0f3a" fill-opacity="0.9"/>
<circle cx="232.45" cy="410.96" r="1.2" fill="#2a0f3a" fill-opacity="0.9"/>
<circle cx="232.45" cy="415.94" r="1.2" fill="#2a0f3a" fill-opacity="0.9"/>
<circle cx="232.45" cy="420.91" r="4.25" fill="#b8103e" fill-opacity="0.72" stroke="#960d32" stroke-opacity="0.82" stroke-width="0.7"/>
<circle cx="232.45" cy="420.91" r="2.15" fill="#9448c0" fill-opacity="0.6" stroke="#793b9d" stroke-opacity="0.70" stroke-width="0.7"/>
<circle cx="232.45" cy="420.91" r="1.0" fill="#5b2a86" fill-opacity="0.85"/>
<circle cx="232.45" cy="425.89" r="1.3" fill="#5b2a86" fill-opacity="0.85"/>
<circle cx="232.45" cy="430.86" r="3.45" fill="#9448c0" fill-opacity="0.6" stroke="#793b9d" stroke-opacity="0.70" stroke-width="0.7"/>
<circle cx="232.45" cy="430.86" r="0.9" fill="#2a0f3a" fill-opacity="0.9"/>
<circle cx="232.45" cy="435.84" r="1.3" fill="#2a0f3a" fill-opacity="0.9"/>
<circle cx="232.45" cy="440.81" r="0.9" fill="#2a0f3a" fill-opacity="0.9"/>
<circle cx="232.45" cy="455.74" r="6.95" fill="#9448c0" fill-opacity="0.6" stroke="#793b9d" stroke-opacity="0.70" stroke-width="0.7"/>
<circle cx="232.45" cy="450.76" r="3.05" fill="#9448c0" fill-opacity="0.6" stroke="#793b9d" stroke-opacity="0.70" stroke-width="0.7"/>
<circle cx="232.45" cy="450.76" r="2.65" fill="#5b2a86" fill-opacity="0.85" stroke="#4a226d" stroke-opacity="0.95" stroke-width="0.7"/>
<circle cx="232.45" cy="460.71" r="3.25" fill="#5b2a86" fill-opacity="0.85" stroke="#4a226d" stroke-opacity="0.95" stroke-width="0.7"/>
<circle cx="232.45" cy="455.74" r="2.85" fill="#b8103e" fill-opacity="0.72" stroke="#960d32" stroke-opacity="0.82" stroke-width="0.7"/>
<circle cx="232.45" cy="455.74" r="1.1" fill="#3a5868" fill-opacity="0.9"/>
<circle cx="232.45" cy="475.64" r="2.65" fill="#5a2250" fill-opacity="0.88" stroke="#491b41" stroke-opacity="0.98" stroke-width="0.7"/>
<circle cx="232.45" cy="475.64" r="1.0" fill="#2a0f3a" fill-opacity="0.9"/>
<circle cx="232.45" cy="495.54" r="7.05" fill="#9448c0" fill-opacity="0.6" stroke="#793b9d" stroke-opacity="0.70" stroke-width="0.7"/>
<circle cx="232.45" cy="490.56" r="2.65" fill="#9448c0" fill-opacity="0.6" stroke="#793b9d" stroke-opacity="0.70" stroke-width="0.7"/>
<circle cx="232.45" cy="490.56" r="1.65" fill="#5b2a86" fill-opacity="0.85" stroke="#4a226d" stroke-opacity="0.95" stroke-width="0.7"/>
<circle cx="232.45" cy="495.54" r="4.75" fill="#b8103e" fill-opacity="0.72" stroke="#960d32" stroke-opacity="0.82" stroke-width="0.7"/>
<circle cx="232.45" cy="495.54" r="1.3" fill="#3a5868" fill-opacity="0.9"/>
<circle cx="232.45" cy="505.49" r="1.1" fill="#2a0f3a" fill-opacity="0.9"/>
<circle cx="232.45" cy="510.46" r="6.05" fill="#9448c0" fill-opacity="0.6" stroke="#793b9d" stroke-opacity="0.70" stroke-width="0.7"/>
<circle cx="232.45" cy="510.46" r="1.6" fill="#5b2a86" fill-opacity="0.85"/>
<circle cx="232.45" cy="515.44" r="1.3" fill="#5b2a86" fill-opacity="0.85"/>
<circle cx="232.45" cy="520.41" r="2.25" fill="#4a2e80" fill-opacity="0.9" stroke="#3c2568" stroke-opacity="1.00" stroke-width="0.7"/>
<circle cx="232.45" cy="425.89" r="1.0" fill="#1f6a3a" fill-opacity="0.9"/>
<circle cx="245.84" cy="425.89" r="1.65" fill="#9448c0" fill-opacity="0.6" stroke="#793b9d" stroke-opacity="0.70" stroke-width="0.7"/>
<circle cx="232.45" cy="445.79" r="1.0" fill="#1f6a3a" fill-opacity="0.9"/>
<circle cx="250.95" cy="445.79" r="1.1" fill="#00b4e6" fill-opacity="0.65"/>
<circle cx="255.38" cy="445.79" r="2.55" fill="#9448c0" fill-opacity="0.6" stroke="#793b9d" stroke-opacity="0.70" stroke-width="0.7"/>
<circle cx="232.45" cy="460.71" r="3.15" fill="#9448c0" fill-opacity="0.6" stroke="#793b9d" stroke-opacity="0.70" stroke-width="0.7"/>
<circle cx="242.21" cy="465.69" r="5.65" fill="#9448c0" fill-opacity="0.6" stroke="#793b9d" stroke-opacity="0.70" stroke-width="0.7"/>
<circle cx="232.45" cy="465.69" r="1.0" fill="#d8d890" fill-opacity="0.85"/>
<circle cx="234.83" cy="465.69" r="1.3" fill="#0e9f45" fill-opacity="0.65"/>
<circle cx="237.22" cy="465.69" r="1.5" fill="#5a2250" fill-opacity="0.88"/>
<circle cx="232.45" cy="470.66" r="1.0" fill="#3a9a9a" fill-opacity="0.85"/>
<circle cx="336.42" cy="470.66" r="1.2" fill="#5b2a86" fill-opacity="0.85"/>
<circle cx="232.45" cy="480.61" r="1.0" fill="#5a2250" fill-opacity="0.88"/>
<circle cx="236.65" cy="480.61" r="1.5" fill="#9a55c0" fill-opacity="0.8"/>
<circle cx="288.97" cy="480.61" r="1.1" fill="#0e9f45" fill-opacity="0.65"/>
<circle cx="233.02" cy="485.59" r="1.4" fill="#4a2e80" fill-opacity="0.9"/>
<circle cx="232.45" cy="500.51" r="1.2" fill="#0e9f45" fill-opacity="0.65"/>
<circle cx="243.57" cy="500.51" r="1.65" fill="#9448c0" fill-opacity="0.6" stroke="#793b9d" stroke-opacity="0.70" stroke-width="0.7"/>
<circle cx="255.04" cy="500.51" r="1.3" fill="#f02a2a" fill-opacity="0.66"/>
</g>
<rect x="226.77" y="403.00" width="124.85" height="120.40" fill="none" stroke="#e2e2e2" stroke-width="0.6"/>
<rect x="226.77" y="395.40" width="124.85" height="7.60" fill="#fcfcfc" stroke="#dcdcdc" stroke-width="0.6"/>
<line x1="226.77" y1="403.00" x2="351.62" y2="403.00" stroke="#b4b4b4" stroke-width="0.8"/>
<line x1="226.47" y1="394.70" x2="351.93" y2="394.70" stroke="#e8e8e8" stroke-width="2.4"/>
<text class="st" x="289.20" y="401.30">Nickel (ncr)</text>
<path d="M353.0 405.99h124.8M353.0 410.96h124.8M353.0 415.94h124.8M353.0 420.91h124.8M353.0 425.89h124.8M353.0 430.86h124.8M353.0 435.84h124.8M353.0 440.81h124.8M353.0 445.79h124.8M353.0 450.76h124.8M353.0 455.74h124.8M353.0 460.71h124.8M353.0 465.69h124.8M353.0 470.66h124.8M353.0 475.64h124.8M353.0 480.61h124.8M353.0 485.59h124.8M353.0 490.56h124.8M353.0 495.54h124.8M353.0 500.51h124.8M353.0 505.49h124.8M353.0 510.46h124.8M353.0 515.44h124.8M353.0 520.41h124.8" stroke="#efefef" stroke-width="0.6"/>
<clipPath id="cp32"><rect x="353.02" y="403.00" width="124.85" height="120.40"/></clipPath>
<g clip-path="url(#cp32)">
<circle cx="358.70" cy="405.99" r="3.65" fill="#9448c0" fill-opacity="0.6" stroke="#793b9d" stroke-opacity="0.70" stroke-width="0.7"/>
<circle cx="358.70" cy="405.99" r="0.9" fill="#2a0f3a" fill-opacity="0.9"/>
<circle cx="358.70" cy="410.96" r="1.2" fill="#2a0f3a" fill-opacity="0.9"/>
<circle cx="358.70" cy="415.94" r="1.2" fill="#2a0f3a" fill-opacity="0.9"/>
<circle cx="358.70" cy="420.91" r="4.25" fill="#b8103e" fill-opacity="0.72" stroke="#960d32" stroke-opacity="0.82" stroke-width="0.7"/>
<circle cx="358.70" cy="420.91" r="2.15" fill="#9448c0" fill-opacity="0.6" stroke="#793b9d" stroke-opacity="0.70" stroke-width="0.7"/>
<circle cx="358.70" cy="420.91" r="1.0" fill="#5b2a86" fill-opacity="0.85"/>
<circle cx="358.70" cy="425.89" r="1.3" fill="#5b2a86" fill-opacity="0.85"/>
<circle cx="358.70" cy="430.86" r="3.45" fill="#9448c0" fill-opacity="0.6" stroke="#793b9d" stroke-opacity="0.70" stroke-width="0.7"/>
<circle cx="358.70" cy="430.86" r="0.9" fill="#2a0f3a" fill-opacity="0.9"/>
<circle cx="358.70" cy="435.84" r="1.3" fill="#2a0f3a" fill-opacity="0.9"/>
<circle cx="358.70" cy="440.81" r="0.9" fill="#2a0f3a" fill-opacity="0.9"/>
<circle cx="358.70" cy="445.79" r="2.75" fill="#9448c0" fill-opacity="0.6" stroke="#793b9d" stroke-opacity="0.70" stroke-width="0.7"/>
<circle cx="358.70" cy="445.79" r="0.9" fill="#2a0f3a" fill-opacity="0.9"/>
<circle cx="358.70" cy="455.74" r="6.95" fill="#9448c0" fill-opacity="0.6" stroke="#793b9d" stroke-opacity="0.70" stroke-width="0.7"/>
<circle cx="358.70" cy="450.76" r="3.05" fill="#9448c0" fill-opacity="0.6" stroke="#793b9d" stroke-opacity="0.70" stroke-width="0.7"/>
<circle cx="358.70" cy="450.76" r="2.65" fill="#5b2a86" fill-opacity="0.85" stroke="#4a226d" stroke-opacity="0.95" stroke-width="0.7"/>
<circle cx="358.70" cy="460.71" r="3.25" fill="#5b2a86" fill-opacity="0.85" stroke="#4a226d" stroke-opacity="0.95" stroke-width="0.7"/>
<circle cx="358.70" cy="455.74" r="2.85" fill="#b8103e" fill-opacity="0.72" stroke="#960d32" stroke-opacity="0.82" stroke-width="0.7"/>
<circle cx="358.70" cy="455.74" r="1.1" fill="#3a5868" fill-opacity="0.9"/>
<circle cx="358.70" cy="465.69" r="5.55" fill="#9448c0" fill-opacity="0.6" stroke="#793b9d" stroke-opacity="0.70" stroke-width="0.7"/>
<circle cx="358.70" cy="465.69" r="1.2" fill="#2a0f3a" fill-opacity="0.9"/>
<circle cx="358.70" cy="470.66" r="1.0" fill="#4a2e80" fill-opacity="0.9"/>
<circle cx="358.70" cy="475.64" r="2.65" fill="#5a2250" fill-opacity="0.88" stroke="#491b41" stroke-opacity="0.98" stroke-width="0.7"/>
<circle cx="358.70" cy="475.64" r="1.0" fill="#2a0f3a" fill-opacity="0.9"/>
<circle cx="358.70" cy="480.61" r="1.1" fill="#2a0f3a" fill-opacity="0.9"/>
<circle cx="358.70" cy="485.59" r="1.2" fill="#2a0f3a" fill-opacity="0.9"/>
<circle cx="358.70" cy="495.54" r="7.05" fill="#9448c0" fill-opacity="0.6" stroke="#793b9d" stroke-opacity="0.70" stroke-width="0.7"/>
<circle cx="358.70" cy="490.56" r="2.65" fill="#9448c0" fill-opacity="0.6" stroke="#793b9d" stroke-opacity="0.70" stroke-width="0.7"/>
<circle cx="358.70" cy="500.51" r="2.65" fill="#9448c0" fill-opacity="0.6" stroke="#793b9d" stroke-opacity="0.70" stroke-width="0.7"/>
<circle cx="358.70" cy="490.56" r="1.65" fill="#5b2a86" fill-opacity="0.85" stroke="#4a226d" stroke-opacity="0.95" stroke-width="0.7"/>
<circle cx="358.70" cy="500.51" r="1.85" fill="#5b2a86" fill-opacity="0.85" stroke="#4a226d" stroke-opacity="0.95" stroke-width="0.7"/>
<circle cx="358.70" cy="495.54" r="4.75" fill="#b8103e" fill-opacity="0.72" stroke="#960d32" stroke-opacity="0.82" stroke-width="0.7"/>
<circle cx="358.70" cy="495.54" r="1.3" fill="#3a5868" fill-opacity="0.9"/>
<circle cx="358.70" cy="505.49" r="1.1" fill="#2a0f3a" fill-opacity="0.9"/>
<circle cx="358.70" cy="510.46" r="6.05" fill="#9448c0" fill-opacity="0.6" stroke="#793b9d" stroke-opacity="0.70" stroke-width="0.7"/>
<circle cx="358.70" cy="510.46" r="1.6" fill="#5b2a86" fill-opacity="0.85"/>
<circle cx="358.70" cy="515.44" r="1.3" fill="#5b2a86" fill-opacity="0.85"/>
<circle cx="358.70" cy="520.41" r="2.25" fill="#4a2e80" fill-opacity="0.9" stroke="#3c2568" stroke-opacity="1.00" stroke-width="0.7"/>
<circle cx="358.70" cy="425.89" r="1.0" fill="#1f6a3a" fill-opacity="0.9"/>
<circle cx="361.65" cy="425.89" r="1.5" fill="#9a55c0" fill-opacity="0.8"/>
</g>
<rect x="353.02" y="403.00" width="124.85" height="120.40" fill="none" stroke="#e2e2e2" stroke-width="0.6"/>
<rect x="353.02" y="395.40" width="124.85" height="7.60" fill="#fcfcfc" stroke="#dcdcdc" stroke-width="0.6"/>
<line x1="353.02" y1="403.00" x2="477.88" y2="403.00" stroke="#b4b4b4" stroke-width="0.8"/>
<line x1="352.72" y1="394.70" x2="478.18" y2="394.70" stroke="#e8e8e8" stroke-width="2.4"/>
<text class="st" x="415.45" y="401.30">Nickel (nir)</text>
<text class="yl" x="99.0" y="408.09">Acinetobacter</text>
<text class="yl" x="99.0" y="413.06">Aeromonas</text>
<text class="yl" x="99.0" y="418.04">Bacillus</text>
<text class="yl" x="99.0" y="423.01">Campylobacter</text>
<text class="yl" x="99.0" y="427.99">Citrobacter</text>
<text class="yl" x="99.0" y="432.96">Clostridioides difficile</text>
<text class="yl" x="99.0" y="437.94">Clostridium</text>
<text class="yl" x="99.0" y="442.91">Edwardsiella</text>
<text class="yl" x="99.0" y="447.89">Enterobacter</text>
<text class="yl" x="99.0" y="452.86">Enterococcus</text>
<text class="yl" x="99.0" y="457.84">Escherichia</text>
<text class="yl" x="99.0" y="462.81">Shigella</text>
<text class="yl" x="99.0" y="467.79">Klebsiella</text>
<text class="yl" x="99.0" y="472.76">Kluyvera intermedia</text>
<text class="yl" x="99.0" y="477.74">Listeria</text>
<text class="yl" x="99.0" y="482.71">Morganella</text>
<text class="yl" x="99.0" y="487.69">Providencia</text>
<text class="yl" x="99.0" y="492.66">Pseudomonas</text>
<text class="yl" x="99.0" y="497.64">Salmonella</text>
<text class="yl" x="99.0" y="502.61">Serratia</text>
<text class="yl" x="99.0" y="507.59">Shewanella algae</text>
<text class="yl" x="99.0" y="512.56">Staphylococcus</text>
<text class="yl" x="99.0" y="517.54">Stenotrophomonas maltophilia</text>
<text class="yl" x="99.0" y="522.51">Vibrio</text>
<path d="M100.6 535.09h124.8M100.6 540.06h124.8M100.6 545.04h124.8M100.6 550.01h124.8M100.6 554.99h124.8M100.6 559.96h124.8M100.6 564.94h124.8M100.6 569.91h124.8M100.6 574.89h124.8M100.6 579.86h124.8M100.6 584.84h124.8M100.6 589.81h124.8M100.6 594.79h124.8M100.6 599.76h124.8M100.6 604.74h124.8M100.6 609.71h124.8M100.6 614.69h124.8M100.6 619.66h124.8M100.6 624.64h124.8M100.6 629.61h124.8M100.6 634.59h124.8M100.6 639.56h124.8M100.6 644.54h124.8M100.6 649.51h124.8" stroke="#efefef" stroke-width="0.6"/>
<clipPath id="cp40"><rect x="100.62" y="532.10" width="124.85" height="120.40"/></clipPath>
<g clip-path="url(#cp40)">
<circle cx="106.30" cy="540.06" r="1.2" fill="#2a0f3a" fill-opacity="0.9"/>
<circle cx="106.30" cy="545.04" r="1.2" fill="#2a0f3a" fill-opacity="0.9"/>
<circle cx="106.30" cy="550.01" r="4.25" fill="#b8103e" fill-opacity="0.72" stroke="#960d32" stroke-opacity="0.82" stroke-width="0.7"/>
<circle cx="106.30" cy="550.01" r="2.15" fill="#9448c0" fill-opacity="0.6" stroke="#793b9d" stroke-opacity="0.70" stroke-width="0.7"/>
<circle cx="106.30" cy="550.01" r="1.0" fill="#5b2a86" fill-opacity="0.85"/>
<circle cx="106.30" cy="554.99" r="1.3" fill="#5b2a86" fill-opacity="0.85"/>
<circle cx="106.30" cy="559.96" r="3.45" fill="#9448c0" fill-opacity="0.6" stroke="#793b9d" stroke-opacity="0.70" stroke-width="0.7"/>
<circle cx="106.30" cy="559.96" r="0.9" fill="#2a0f3a" fill-opacity="0.9"/>
<circle cx="106.30" cy="564.94" r="1.3" fill="#2a0f3a" fill-opacity="0.9"/>
<circle cx="106.30" cy="569.91" r="0.9" fill="#2a0f3a" fill-opacity="0.9"/>
<circle cx="106.30" cy="574.89" r="2.75" fill="#9448c0" fill-opacity="0.6" stroke="#793b9d" stroke-opacity="0.70" stroke-width="0.7"/>
<circle cx="106.30" cy="574.89" r="0.9" fill="#2a0f3a" fill-opacity="0.9"/>
<circle cx="106.30" cy="584.84" r="6.95" fill="#9448c0" fill-opacity="0.6" stroke="#793b9d" stroke-opacity="0.70" stroke-width="0.7"/>
<circle cx="106.30" cy="579.86" r="3.05" fill="#9448c0" fill-opacity="0.6" stroke="#793b9d" stroke-opacity="0.70" stroke-width="0.7"/>
<circle cx="106.30" cy="579.86" r="2.65" fill="#5b2a86" fill-opacity="0.85" stroke="#4a226d" stroke-opacity="0.95" stroke-width="0.7"/>
<circle cx="106.30" cy="589.81" r="3.25" fill="#5b2a86" fill-opacity="0.85" stroke="#4a226d" stroke-opacity="0.95" stroke-width="0.7"/>
<circle cx="106.30" cy="584.84" r="2.85" fill="#b8103e" fill-opacity="0.72" stroke="#960d32" stroke-opacity="0.82" stroke-width="0.7"/>
<circle cx="106.30" cy="584.84" r="1.1" fill="#3a5868" fill-opacity="0.9"/>
<circle cx="106.30" cy="594.79" r="5.55" fill="#9448c0" fill-opacity="0.6" stroke="#793b9d" stroke-opacity="0.70" stroke-width="0.7"/>
<circle cx="106.30" cy="594.79" r="1.2" fill="#2a0f3a" fill-opacity="0.9"/>
<circle cx="106.30" cy="599.76" r="1.0" fill="#4a2e80" fill-opacity="0.9"/>
<circle cx="106.30" cy="604.74" r="2.65" fill="#5a2250" fill-opacity="0.88" stroke="#491b41" stroke-opacity="0.98" stroke-width="0.7"/>
<circle cx="106.30" cy="604.74" r="1.0" fill="#2a0f3a" fill-opacity="0.9"/>
<circle cx="106.30" cy="609.71" r="1.1" fill="#2a0f3a" fill-opacity="0.9"/>
<circle cx="106.30" cy="614.69" r="1.2" fill="#2a0f3a" fill-opacity="0.9"/>
<circle cx="106.30" cy="624.64" r="7.05" fill="#9448c0" fill-opacity="0.6" stroke="#793b9d" stroke-opacity="0.70" stroke-width="0.7"/>
<circle cx="106.30" cy="619.66" r="2.65" fill="#9448c0" fill-opacity="0.6" stroke="#793b9d" stroke-opacity="0.70" stroke-width="0.7"/>
<circle cx="106.30" cy="629.61" r="2.65" fill="#9448c0" fill-opacity="0.6" stroke="#793b9d" stroke-opacity="0.70" stroke-width="0.7"/>
<circle cx="106.30" cy="619.66" r="1.65" fill="#5b2a86" fill-opacity="0.85" stroke="#4a226d" stroke-opacity="0.95" stroke-width="0.7"/>
<circle cx="106.30" cy="629.61" r="1.85" fill="#5b2a86" fill-opacity="0.85" stroke="#4a226d" stroke-opacity="0.95" stroke-width="0.7"/>
<circle cx="106.30" cy="624.64" r="4.75" fill="#b8103e" fill-opacity="0.72" stroke="#960d32" stroke-opacity="0.82" stroke-width="0.7"/>
<circle cx="106.30" cy="624.64" r="1.3" fill="#3a5868" fill-opacity="0.9"/>
<circle cx="106.30" cy="634.59" r="1.1" fill="#2a0f3a" fill-opacity="0.9"/>
<circle cx="106.30" cy="639.56" r="6.05" fill="#9448c0" fill-opacity="0.6" stroke="#793b9d" stroke-opacity="0.70" stroke-width="0.7"/>
<circle cx="106.30" cy="639.56" r="1.6" fill="#5b2a86" fill-opacity="0.85"/>
<circle cx="106.30" cy="644.54" r="1.3" fill="#5b2a86" fill-opacity="0.85"/>
<circle cx="106.30" cy="649.51" r="2.25" fill="#4a2e80" fill-opacity="0.9" stroke="#3c2568" stroke-opacity="1.00" stroke-width="0.7"/>
<circle cx="219.80" cy="535.09" r="3.85" fill="#9448c0" fill-opacity="0.6" stroke="#793b9d" stroke-opacity="0.70" stroke-width="0.7"/>
<circle cx="219.80" cy="535.09" r="0.9" fill="#2a0f3a" fill-opacity="0.9"/>
</g>
<rect x="100.62" y="532.10" width="124.85" height="120.40" fill="none" stroke="#e2e2e2" stroke-width="0.6"/>
<rect x="100.62" y="524.40" width="124.85" height="7.70" fill="#fcfcfc" stroke="#dcdcdc" stroke-width="0.6"/>
<line x1="100.62" y1="532.10" x2="225.47" y2="532.10" stroke="#b4b4b4" stroke-width="0.8"/>
<line x1="100.33" y1="523.90" x2="225.78" y2="523.90" stroke="#e8e8e8" stroke-width="2.4"/>
<text class="st" x="163.05" y="530.35">Nickel (nre)</text>
<path d="M226.8 535.09h124.8M226.8 540.06h124.8M226.8 545.04h124.8M226.8 550.01h124.8M226.8 554.99h124.8M226.8 559.96h124.8M226.8 564.94h124.8M226.8 569.91h124.8M226.8 574.89h124.8M226.8 579.86h124.8M226.8 584.84h124.8M226.8 589.81h124.8M226.8 594.79h124.8M226.8 599.76h124.8M226.8 604.74h124.8M226.8 609.71h124.8M226.8 614.69h124.8M226.8 619.66h124.8M226.8 624.64h124.8M226.8 629.61h124.8M226.8 634.59h124.8M226.8 639.56h124.8M226.8 644.54h124.8M226.8 649.51h124.8" stroke="#efefef" stroke-width="0.6"/>
<clipPath id="cp41"><rect x="226.77" y="532.10" width="124.85" height="120.40"/></clipPath>
<g clip-path="url(#cp41)">
<circle cx="232.45" cy="535.09" r="3.85" fill="#9448c0" fill-opacity="0.6" stroke="#793b9d" stroke-opacity="0.70" stroke-width="0.7"/>
<circle cx="232.45" cy="535.09" r="0.9" fill="#2a0f3a" fill-opacity="0.9"/>
<circle cx="232.45" cy="540.06" r="1.2" fill="#2a0f3a" fill-opacity="0.9"/>
<circle cx="232.45" cy="545.04" r="1.2" fill="#2a0f3a" fill-opacity="0.9"/>
<circle cx="232.45" cy="550.01" r="4.25" fill="#b8103e" fill-opacity="0.72" stroke="#960d32" stroke-opacity="0.82" stroke-width="0.7"/>
<circle cx="232.45" cy="550.01" r="2.15" fill="#9448c0" fill-opacity="0.6" stroke="#793b9d" stroke-opacity="0.70" stroke-width="0.7"/>
<circle cx="232.45" cy="550.01" r="1.2" fill="#5b2a86" fill-opacity="0.85"/>
<circle cx="246.75" cy="554.99" r="1.2" fill="#6b7a2a" fill-opacity="0.85"/>
<circle cx="255.15" cy="554.99" r="1.2" fill="#3a9a9a" fill-opacity="0.85"/>
<circle cx="303.05" cy="554.99" r="1.75" fill="#9448c0" fill-opacity="0.6" stroke="#793b9d" stroke-opacity="0.70" stroke-width="0.7"/>
<circle cx="232.45" cy="559.96" r="3.65" fill="#9448c0" fill-opacity="0.6" stroke="#793b9d" stroke-opacity="0.70" stroke-width="0.7"/>
<circle cx="232.45" cy="559.96" r="1.0" fill="#2a0f3a" fill-opacity="0.9"/>
<circle cx="232.45" cy="564.94" r="1.3" fill="#2a0f3a" fill-opacity="0.9"/>
<circle cx="232.45" cy="569.91" r="1.0" fill="#4a2e80" fill-opacity="0.9"/>
<circle cx="273.54" cy="574.89" r="1.2" fill="#c89a6a" fill-opacity="0.85"/>
<circle cx="289.20" cy="574.89" r="1.1" fill="#5a2250" fill-opacity="0.88"/>
<circle cx="296.35" cy="574.89" r="1.2" fill="#7aa07a" fill-opacity="0.85"/>
<circle cx="327.11" cy="574.89" r="2.75" fill="#9448c0" fill-opacity="0.6" stroke="#793b9d" stroke-opacity="0.70" stroke-width="0.7"/>
<circle cx="345.61" cy="574.89" r="1.2" fill="#3a9a9a" fill-opacity="0.85"/>
<circle cx="232.45" cy="579.86" r="3.65" fill="#9448c0" fill-opacity="0.6" stroke="#793b9d" stroke-opacity="0.70" stroke-width="0.7"/>
<circle cx="232.45" cy="579.86" r="1.0" fill="#2a0f3a" fill-opacity="0.9"/>
<circle cx="241.19" cy="584.84" r="5.45" fill="#9448c0" fill-opacity="0.6" stroke="#793b9d" stroke-opacity="0.70" stroke-width="0.7"/>
<circle cx="240.05" cy="584.84" r="1.4" fill="#4a2e80" fill-opacity="0.9"/>
<circle cx="248.23" cy="584.84" r="1.2" fill="#b8103e" fill-opacity="0.72"/>
<circle cx="249.93" cy="584.84" r="1.4" fill="#d0a020" fill-opacity="0.85"/>
<circle cx="261.17" cy="584.84" r="2.85" fill="#f02a2a" fill-opacity="0.66" stroke="#c42222" stroke-opacity="0.76" stroke-width="0.7"/>
<circle cx="232.45" cy="589.81" r="3.15" fill="#9448c0" fill-opacity="0.6" stroke="#793b9d" stroke-opacity="0.70" stroke-width="0.7"/>
<circle cx="232.45" cy="589.81" r="1.0" fill="#5b2a86" fill-opacity="0.85"/>
<circle cx="277.74" cy="589.81" r="1.2" fill="#f02a2a" fill-opacity="0.66"/>
<circle cx="289.31" cy="589.81" r="1.2" fill="#3a9a9a" fill-opacity="0.85"/>
<circle cx="307.81" cy="589.81" r="1.0" fill="#6a4038" fill-opacity="0.85"/>
<circle cx="271.38" cy="594.79" r="1.2" fill="#c89a6a" fill-opacity="0.85"/>
<circle cx="287.16" cy="594.79" r="1.3" fill="#0e9f45" fill-opacity="0.65"/>
<circle cx="289.65" cy="594.79" r="1.3" fill="#f02a2a" fill-opacity="0.66"/>
<circle cx="304.86" cy="594.79" r="5.85" fill="#9448c0" fill-opacity="0.6" stroke="#793b9d" stroke-opacity="0.70" stroke-width="0.7"/>
<circle cx="304.86" cy="594.79" r="1.1" fill="#5b2a86" fill-opacity="0.85"/>
<circle cx="318.71" cy="594.79" r="1.2" fill="#00b4e6" fill-opacity="0.65"/>
<circle cx="345.61" cy="594.79" r="1.2" fill="#d8d890" fill-opacity="0.85"/>
<circle cx="345.61" cy="599.76" r="1.1" fill="#4a2e80" fill-opacity="0.9"/>
<circle cx="232.45" cy="604.74" r="2.85" fill="#5a2250" fill-opacity="0.88" stroke="#491b41" stroke-opacity="0.98" stroke-width="0.7"/>
<circle cx="232.45" cy="609.71" r="1.0" fill="#2a0f3a" fill-opacity="0.9"/>
<circle cx="234.04" cy="609.71" r="1.1" fill="#8a8a8f" fill-opacity="0.6"/>
<circle cx="260.71" cy="609.71" r="1.1" fill="#7aa07a" fill-opacity="0.85"/>
<circle cx="232.45" cy="614.69" r="1.1" fill="#5b2a86" fill-opacity="0.85"/>
<circle cx="232.45" cy="619.66" r="3.65" fill="#9448c0" fill-opacity="0.6" stroke="#793b9d" stroke-opacity="0.70" stroke-width="0.7"/>
<circle cx="232.45" cy="619.66" r="1.0" fill="#2a0f3a" fill-opacity="0.9"/>
<circle cx="248.79" cy="619.66" r="1.0" fill="#5a2250" fill-opacity="0.88"/>
<circle cx="243.01" cy="624.64" r="7.65" fill="#9448c0" fill-opacity="0.6" stroke="#793b9d" stroke-opacity="0.70" stroke-width="0.7"/>
<circle cx="240.96" cy="624.64" r="1.8" fill="#4a2e80" fill-opacity="0.9"/>
<circle cx="246.98" cy="624.64" r="1.8" fill="#4a2e80" fill-opacity="0.9"/>
<circle cx="257.42" cy="624.64" r="5.35" fill="#f02a2a" fill-opacity="0.66" stroke="#c42222" stroke-opacity="0.76" stroke-width="0.7"/>
<circle cx="256.28" cy="624.64" r="2.15" fill="#f07f2a" fill-opacity="0.62" stroke="#c46822" stroke-opacity="0.72" stroke-width="0.7"/>
<circle cx="251.06" cy="629.61" r="1.9" fill="#9a55c0" fill-opacity="0.8"/>
<circle cx="232.45" cy="629.61" r="1.0" fill="#1f6a3a" fill-opacity="0.9"/>
<circle cx="232.45" cy="634.59" r="1.0" fill="#5b2a86" fill-opacity="0.85"/>
<circle cx="232.45" cy="639.56" r="5.75" fill="#9448c0" fill-opacity="0.6" stroke="#793b9d" stroke-opacity="0.70" stroke-width="0.7"/>
<circle cx="232.45" cy="639.56" r="1.3" fill="#5b2a86" fill-opacity="0.85"/>
<circle cx="232.45" cy="644.54" r="1.1" fill="#5b2a86" fill-opacity="0.85"/>
<circle cx="232.45" cy="649.51" r="2.25" fill="#4a2e80" fill-opacity="0.9" stroke="#3c2568" stroke-opacity="1.00" stroke-width="0.7"/>
</g>
<rect x="226.77" y="532.10" width="124.85" height="120.40" fill="none" stroke="#e2e2e2" stroke-width="0.6"/>
<rect x="226.77" y="524.40" width="124.85" height="7.70" fill="#fcfcfc" stroke="#dcdcdc" stroke-width="0.6"/>
<line x1="226.77" y1="532.10" x2="351.62" y2="532.10" stroke="#b4b4b4" stroke-width="0.8"/>
<line x1="226.47" y1="523.90" x2="351.93" y2="523.90" stroke="#e8e8e8" stroke-width="2.4"/>
<text class="st" x="289.20" y="530.35">Silver (sil)</text>
<path d="M353.0 535.09h124.8M353.0 540.06h124.8M353.0 545.04h124.8M353.0 550.01h124.8M353.0 554.99h124.8M353.0 559.96h124.8M353.0 564.94h124.8M353.0 569.91h124.8M353.0 574.89h124.8M353.0 579.86h124.8M353.0 584.84h124.8M353.0 589.81h124.8M353.0 594.79h124.8M353.0 599.76h124.8M353.0 604.74h124.8M353.0 609.71h124.8M353.0 614.69h124.8M353.0 619.66h124.8M353.0 624.64h124.8M353.0 629.61h124.8M353.0 634.59h124.8M353.0 639.56h124.8M353.0 644.54h124.8M353.0 649.51h124.8" stroke="#efefef" stroke-width="0.6"/>
<clipPath id="cp42"><rect x="353.02" y="532.10" width="124.85" height="120.40"/></clipPath>
<g clip-path="url(#cp42)">
<circle cx="358.70" cy="535.09" r="3.85" fill="#9448c0" fill-opacity="0.6" stroke="#793b9d" stroke-opacity="0.70" stroke-width="0.7"/>
<circle cx="358.70" cy="535.09" r="0.9" fill="#2a0f3a" fill-opacity="0.9"/>
<circle cx="358.70" cy="540.06" r="1.2" fill="#2a0f3a" fill-opacity="0.9"/>
<circle cx="358.70" cy="545.04" r="1.2" fill="#2a0f3a" fill-opacity="0.9"/>
<circle cx="358.70" cy="550.01" r="4.25" fill="#b8103e" fill-opacity="0.72" stroke="#960d32" stroke-opacity="0.82" stroke-width="0.7"/>
<circle cx="358.70" cy="550.01" r="2.15" fill="#9448c0" fill-opacity="0.6" stroke="#793b9d" stroke-opacity="0.70" stroke-width="0.7"/>
<circle cx="358.70" cy="550.01" r="1.2" fill="#5b2a86" fill-opacity="0.85"/>
<circle cx="358.70" cy="554.99" r="1.0" fill="#1f6a3a" fill-opacity="0.9"/>
<circle cx="373.11" cy="554.99" r="1.0" fill="#c89a6a" fill-opacity="0.85"/>
<circle cx="376.41" cy="554.99" r="1.9" fill="#9448c0" fill-opacity="0.6"/>
<circle cx="358.70" cy="559.96" r="3.65" fill="#9448c0" fill-opacity="0.6" stroke="#793b9d" stroke-opacity="0.70" stroke-width="0.7"/>
<circle cx="358.70" cy="559.96" r="1.0" fill="#2a0f3a" fill-opacity="0.9"/>
<circle cx="358.70" cy="564.94" r="1.3" fill="#2a0f3a" fill-opacity="0.9"/>
<circle cx="358.70" cy="569.91" r="1.0" fill="#4a2e80" fill-opacity="0.9"/>
<circle cx="369.26" cy="574.89" r="1.1" fill="#c89a6a" fill-opacity="0.85"/>
<circle cx="383.56" cy="574.89" r="1.1" fill="#0e9f45" fill-opacity="0.65"/>
<circle cx="396.72" cy="574.89" r="1.1" fill="#3a9a9a" fill-opacity="0.85"/>
<circle cx="410.23" cy="574.89" r="2.75" fill="#9448c0" fill-opacity="0.6" stroke="#793b9d" stroke-opacity="0.70" stroke-width="0.7"/>
<circle cx="415.45" cy="574.89" r="1.1" fill="#7aa07a" fill-opacity="0.85"/>
<circle cx="443.82" cy="574.89" r="1.2" fill="#f02a2a" fill-opacity="0.66"/>
<circle cx="358.70" cy="579.86" r="3.65" fill="#9448c0" fill-opacity="0.6" stroke="#793b9d" stroke-opacity="0.70" stroke-width="0.7"/>
<circle cx="358.70" cy="579.86" r="1.0" fill="#2a0f3a" fill-opacity="0.9"/>
<circle cx="358.70" cy="584.84" r="1.1" fill="#f2d20a" fill-opacity="0.6"/>
<circle cx="368.46" cy="584.84" r="1.3" fill="#00b4e6" fill-opacity="0.65"/>
<circle cx="374.59" cy="584.84" r="1.5" fill="#8a8a8f" fill-opacity="0.6"/>
<circle cx="379.58" cy="584.84" r="1.5" fill="#4a2e80" fill-opacity="0.9"/>
<circle cx="383.67" cy="584.84" r="6.95" fill="#9448c0" fill-opacity="0.6" stroke="#793b9d" stroke-opacity="0.70" stroke-width="0.7"/>
<circle cx="383.67" cy="584.84" r="2.15" fill="#b8103e" fill-opacity="0.72" stroke="#960d32" stroke-opacity="0.82" stroke-width="0.7"/>
<circle cx="401.83" cy="584.84" r="1.8" fill="#f07f2a" fill-opacity="0.62"/>
<circle cx="358.70" cy="589.81" r="3.15" fill="#9448c0" fill-opacity="0.6" stroke="#793b9d" stroke-opacity="0.70" stroke-width="0.7"/>
<circle cx="358.70" cy="589.81" r="1.0" fill="#5b2a86" fill-opacity="0.85"/>
<circle cx="383.67" cy="589.81" r="2.15" fill="#5b2a86" fill-opacity="0.85" stroke="#4a226d" stroke-opacity="0.95" stroke-width="0.7"/>
<circle cx="359.15" cy="594.79" r="1.0" fill="#d8d890" fill-opacity="0.85"/>
<circle cx="367.55" cy="594.79" r="1.2" fill="#c89a6a" fill-opacity="0.85"/>
<circle cx="369.82" cy="594.79" r="1.1" fill="#3a9a9a" fill-opacity="0.85"/>
<circle cx="374.36" cy="594.79" r="1.3" fill="#1f6a3a" fill-opacity="0.9"/>
<circle cx="375.72" cy="594.79" r="1.3" fill="#1f6a3a" fill-opacity="0.9"/>
<circle cx="384.35" cy="594.79" r="6.35" fill="#9448c0" fill-opacity="0.6" stroke="#793b9d" stroke-opacity="0.70" stroke-width="0.7"/>
<circle cx="381.17" cy="594.79" r="1.2" fill="#b8103e" fill-opacity="0.72"/>
<circle cx="358.70" cy="599.76" r="1.0" fill="#3a9a9a" fill-opacity="0.85"/>
<circle cx="415.68" cy="599.76" r="1.1" fill="#4a2e80" fill-opacity="0.9"/>
<circle cx="358.70" cy="604.74" r="2.65" fill="#5a2250" fill-opacity="0.88" stroke="#491b41" stroke-opacity="0.98" stroke-width="0.7"/>
<circle cx="358.70" cy="609.71" r="1.1" fill="#2a0f3a" fill-opacity="0.9"/>
<circle cx="358.70" cy="614.69" r="1.0" fill="#1f6a3a" fill-opacity="0.9"/>
<circle cx="396.84" cy="614.69" r="1.6" fill="#9448c0" fill-opacity="0.6"/>
<circle cx="358.70" cy="619.66" r="2.65" fill="#5b2a86" fill-opacity="0.85" stroke="#4a226d" stroke-opacity="0.95" stroke-width="0.7"/>
<circle cx="358.70" cy="624.64" r="6.65" fill="#9448c0" fill-opacity="0.6" stroke="#793b9d" stroke-opacity="0.70" stroke-width="0.7"/>
<circle cx="361.08" cy="624.64" r="1.6" fill="#4a2e80" fill-opacity="0.9"/>
<circle cx="365.17" cy="624.64" r="3.15" fill="#b8103e" fill-opacity="0.72" stroke="#960d32" stroke-opacity="0.82" stroke-width="0.7"/>
<circle cx="368.69" cy="624.64" r="4.65" fill="#f02a2a" fill-opacity="0.66" stroke="#c42222" stroke-opacity="0.76" stroke-width="0.7"/>
<circle cx="358.70" cy="629.61" r="1.0" fill="#5a2250" fill-opacity="0.88"/>
<circle cx="362.90" cy="629.61" r="1.65" fill="#9448c0" fill-opacity="0.6" stroke="#793b9d" stroke-opacity="0.70" stroke-width="0.7"/>
<circle cx="375.27" cy="629.61" r="1.1" fill="#8a8a8f" fill-opacity="0.6"/>
<circle cx="378.56" cy="629.61" r="1.1" fill="#7aa07a" fill-opacity="0.85"/>
<circle cx="358.70" cy="634.59" r="1.0" fill="#5b2a86" fill-opacity="0.85"/>
<circle cx="358.70" cy="639.56" r="5.65" fill="#9448c0" fill-opacity="0.6" stroke="#793b9d" stroke-opacity="0.70" stroke-width="0.7"/>
<circle cx="358.70" cy="639.56" r="1.3" fill="#5b2a86" fill-opacity="0.85"/>
<circle cx="358.70" cy="644.54" r="1.1" fill="#5b2a86" fill-opacity="0.85"/>
<circle cx="358.70" cy="649.51" r="2.25" fill="#4a2e80" fill-opacity="0.9" stroke="#3c2568" stroke-opacity="1.00" stroke-width="0.7"/>
</g>
<rect x="353.02" y="532.10" width="124.85" height="120.40" fill="none" stroke="#e2e2e2" stroke-width="0.6"/>
<rect x="353.02" y="524.40" width="124.85" height="7.70" fill="#fcfcfc" stroke="#dcdcdc" stroke-width="0.6"/>
<line x1="353.02" y1="532.10" x2="477.88" y2="532.10" stroke="#b4b4b4" stroke-width="0.8"/>
<line x1="352.72" y1="523.90" x2="478.18" y2="523.90" stroke="#e8e8e8" stroke-width="2.4"/>
<text class="st" x="415.45" y="530.35">Tellurium (ter)</text>
<text class="yl" x="99.0" y="537.19">Acinetobacter</text>
<text class="yl" x="99.0" y="542.16">Aeromonas</text>
<text class="yl" x="99.0" y="547.14">Bacillus</text>
<text class="yl" x="99.0" y="552.11">Campylobacter</text>
<text class="yl" x="99.0" y="557.09">Citrobacter</text>
<text class="yl" x="99.0" y="562.06">Clostridioides difficile</text>
<text class="yl" x="99.0" y="567.04">Clostridium</text>
<text class="yl" x="99.0" y="572.01">Edwardsiella</text>
<text class="yl" x="99.0" y="576.99">Enterobacter</text>
<text class="yl" x="99.0" y="581.96">Enterococcus</text>
<text class="yl" x="99.0" y="586.94">Escherichia</text>
<text class="yl" x="99.0" y="591.91">Shigella</text>
<text class="yl" x="99.0" y="596.89">Klebsiella</text>
<text class="yl" x="99.0" y="601.86">Kluyvera intermedia</text>
<text class="yl" x="99.0" y="606.84">Listeria</text>
<text class="yl" x="99.0" y="611.81">Morganella</text>
<text class="yl" x="99.0" y="616.79">Providencia</text>
<text class="yl" x="99.0" y="621.76">Pseudomonas</text>
<text class="yl" x="99.0" y="626.74">Salmonella</text>
<text class="yl" x="99.0" y="631.71">Serratia</text>
<text class="yl" x="99.0" y="636.69">Shewanella algae</text>
<text class="yl" x="99.0" y="641.66">Staphylococcus</text>
<text class="yl" x="99.0" y="646.64">Stenotrophomonas maltophilia</text>
<text class="yl" x="99.0" y="651.61">Vibrio</text>
<text class="tk" x="106.30" y="658.3">0</text>
<text class="tk" x="134.68" y="658.3">25</text>
<text class="tk" x="163.05" y="658.3">50</text>
<text class="tk" x="191.43" y="658.3">75</text>
<text class="tk" x="219.80" y="658.3">100</text>
<text class="tk" x="232.45" y="658.3">0</text>
<text class="tk" x="260.82" y="658.3">25</text>
<text class="tk" x="289.20" y="658.3">50</text>
<text class="tk" x="317.57" y="658.3">75</text>
<text class="tk" x="345.95" y="658.3">100</text>
<text class="tk" x="358.70" y="658.3">0</text>
<text class="tk" x="387.07" y="658.3">25</text>
<text class="tk" x="415.45" y="658.3">50</text>
<text class="tk" x="443.82" y="658.3">75</text>
<text class="tk" x="472.20" y="658.3">100</text>
<text class="at" x="289" y="665">Resistant Isolates (%)</text>
<text class="at" style="font-size:7.3px" transform="translate(12.8,333.8) rotate(-90)">Organism</text>
<text class="lt" x="482.1" y="270">Source</text>
<circle cx="487.2" cy="279.1" r="3.7" fill="#b57fd8" stroke="#9f6fbe" stroke-width="0.6"/>
<text class="lg" x="495.9" y="281.20">Clinical</text>
<circle cx="487.2" cy="289.6" r="3.7" fill="#b9b9bd" stroke="#a2a2a6" stroke-width="0.6"/>
<text class="lg" x="495.9" y="291.70">Dairy</text>
<circle cx="487.2" cy="300.3" r="3.7" fill="#f7e25c" stroke="#d9c650" stroke-width="0.6"/>
<text class="lg" x="495.9" y="302.40">Egg</text>
<circle cx="487.2" cy="310.8" r="3.7" fill="#3fc8f2" stroke="#37b0d4" stroke-width="0.6"/>
<text class="lg" x="495.9" y="312.90">Fish/Seafood</text>
<circle cx="487.2" cy="321.3" r="3.7" fill="#3dba68" stroke="#35a35b" stroke-width="0.6"/>
<text class="lg" x="495.9" y="323.40">Fruit/Vegetables</text>
<circle cx="487.2" cy="332.0" r="3.7" fill="#f2666c" stroke="#d4595f" stroke-width="0.6"/>
<text class="lg" x="495.9" y="334.10">Meat/Poultry</text>
<circle cx="487.2" cy="342.5" r="3.7" fill="#f2a068" stroke="#d48c5b" stroke-width="0.6"/>
<text class="lg" x="495.9" y="344.60">Multi-product</text>
<text class="lt" style="font-size:6.65px" x="482.1" y="359.0">No. Isolates</text>
<circle cx="489.7" cy="365.6" r="1.0" fill="#c4c4c4" stroke="#9a9a9a" stroke-width="0.5"/>
<text class="lg" x="501.3" y="367.70">1</text>
<circle cx="489.7" cy="371.3" r="1.45" fill="#fff" stroke="#9a9a9a" stroke-width="0.5"/>
<text class="lg" x="501.3" y="373.40">100</text>
<circle cx="489.7" cy="376.7" r="2.0" fill="#fff" stroke="#9a9a9a" stroke-width="0.5"/>
<text class="lg" x="501.3" y="378.80">1000</text>
<circle cx="489.7" cy="383.5" r="3.2" fill="#fff" stroke="#9a9a9a" stroke-width="0.5"/>
<text class="lg" x="501.3" y="385.60">10000</text>
<circle cx="489.7" cy="395.2" r="6.1" fill="#fff" stroke="#9a9a9a" stroke-width="0.5"/>
<text class="lg" x="501.3" y="397.30">60000</text>
</svg></body></html>
